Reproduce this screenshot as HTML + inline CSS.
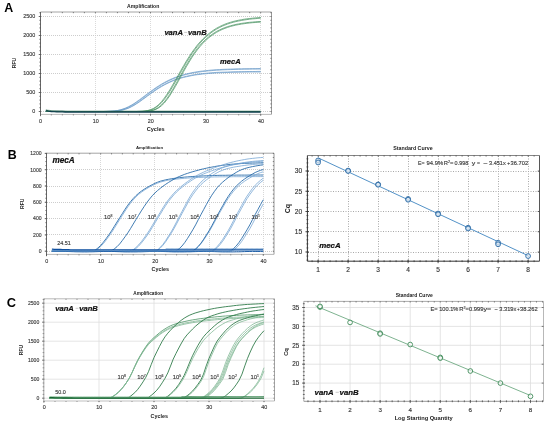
<!DOCTYPE html>
<html><head><meta charset="utf-8"><title>qPCR amplification and standard curves</title><style>
html,body{margin:0;padding:0;background:#fff;}
svg{display:block;}
text{font-family:'Liberation Sans', Arial, sans-serif;}
</style></head><body>
<svg width="550" height="425" viewBox="0 0 550 425">
<rect width="550" height="425" fill="#fff"/>
<path d="M95.5 13V114.4M150.5 13V114.4M205.5 13V114.4M260.5 13V114.4" stroke="#dadada" stroke-width="1" stroke-dasharray="1 1" fill="none"/>
<path d="M41 111.5H271.5M41 92.5H271.5M41 73.5H271.5M41 54.5H271.5M41 35.5H271.5M41 16.5H271.5" stroke="#cdcdcd" stroke-width="1" stroke-dasharray="1 1" fill="none"/>
<path d="M40.5 12H271.5" stroke="#9a9a9a" stroke-width="0.9" fill="none"/>
<path d="M271.5 12V114.4" stroke="#8c8c8c" stroke-width="0.9" fill="none"/>
<path d="M40.5 114.4H271.5" stroke="#b0b0b0" stroke-width="0.9" fill="none"/>
<path d="M40.5 12V116.2" stroke="#555" stroke-width="0.9" fill="none"/>
<path d="M51.32 114.4V115.4M51.32 12v1.2M62.34 114.4V115.4M62.34 12v1.2M73.36 114.4V115.4M73.36 12v1.2M84.38 114.4V115.4M84.38 12v1.2M95.4 114.4V115.4M95.4 12v1.2M106.42 114.4V115.4M106.42 12v1.2M117.44 114.4V115.4M117.44 12v1.2M128.46 114.4V115.4M128.46 12v1.2M139.48 114.4V115.4M139.48 12v1.2M150.5 114.4V115.4M150.5 12v1.2M161.52 114.4V115.4M161.52 12v1.2M172.54 114.4V115.4M172.54 12v1.2M183.56 114.4V115.4M183.56 12v1.2M194.58 114.4V115.4M194.58 12v1.2M205.6 114.4V115.4M205.6 12v1.2M216.62 114.4V115.4M216.62 12v1.2M227.64 114.4V115.4M227.64 12v1.2M238.66 114.4V115.4M238.66 12v1.2M249.68 114.4V115.4M249.68 12v1.2M260.7 114.4V115.4M260.7 12v1.2M39.3 111.5H40.9M271.5 111.5h-1.2M39.3 107.7H40.9M271.5 107.7h-1.2M39.3 103.9H40.9M271.5 103.9h-1.2M39.3 100.1H40.9M271.5 100.1h-1.2M39.3 96.3H40.9M271.5 96.3h-1.2M39.3 92.5H40.9M271.5 92.5h-1.2M39.3 88.7H40.9M271.5 88.7h-1.2M39.3 84.9H40.9M271.5 84.9h-1.2M39.3 81.1H40.9M271.5 81.1h-1.2M39.3 77.3H40.9M271.5 77.3h-1.2M39.3 73.5H40.9M271.5 73.5h-1.2M39.3 69.7H40.9M271.5 69.7h-1.2M39.3 65.9H40.9M271.5 65.9h-1.2M39.3 62.1H40.9M271.5 62.1h-1.2M39.3 58.3H40.9M271.5 58.3h-1.2M39.3 54.5H40.9M271.5 54.5h-1.2M39.3 50.7H40.9M271.5 50.7h-1.2M39.3 46.9H40.9M271.5 46.9h-1.2M39.3 43.1H40.9M271.5 43.1h-1.2M39.3 39.3H40.9M271.5 39.3h-1.2M39.3 35.5H40.9M271.5 35.5h-1.2M39.3 31.7H40.9M271.5 31.7h-1.2M39.3 27.9H40.9M271.5 27.9h-1.2M39.3 24.1H40.9M271.5 24.1h-1.2M39.3 20.3H40.9M271.5 20.3h-1.2M39.3 16.5H40.9M271.5 16.5h-1.2M39.3 12.7H40.9M271.5 12.7h-1.2" stroke="#555" stroke-width="0.7" fill="none"/>
<path d="M95.4 114.4V115.6M150.5 114.4V115.6M205.6 114.4V115.6M260.7 114.4V115.6M38.7 111.5H41.1M38.7 92.5H41.1M38.7 73.5H41.1M38.7 54.5H41.1M38.7 35.5H41.1M38.7 16.5H41.1" stroke="#555" stroke-width="0.8" fill="none"/>
<text x="35.3" y="113.4" font-size="5.4" text-anchor="end" font-weight="normal" font-style="normal" fill="#3a3a3a" stroke="#3a3a3a" stroke-width="0.14">0</text>
<text x="35.3" y="94.4" font-size="5.4" text-anchor="end" font-weight="normal" font-style="normal" fill="#3a3a3a" stroke="#3a3a3a" stroke-width="0.14">500</text>
<text x="35.3" y="75.4" font-size="5.4" text-anchor="end" font-weight="normal" font-style="normal" fill="#3a3a3a" stroke="#3a3a3a" stroke-width="0.14">1000</text>
<text x="35.3" y="56.4" font-size="5.4" text-anchor="end" font-weight="normal" font-style="normal" fill="#3a3a3a" stroke="#3a3a3a" stroke-width="0.14">1500</text>
<text x="35.3" y="37.4" font-size="5.4" text-anchor="end" font-weight="normal" font-style="normal" fill="#3a3a3a" stroke="#3a3a3a" stroke-width="0.14">2000</text>
<text x="35.3" y="18.4" font-size="5.4" text-anchor="end" font-weight="normal" font-style="normal" fill="#3a3a3a" stroke="#3a3a3a" stroke-width="0.14">2500</text>
<text x="40.6" y="122.6" font-size="5.4" text-anchor="middle" font-weight="normal" font-style="normal" fill="#3a3a3a" stroke="#3a3a3a" stroke-width="0.14">0</text>
<text x="95.7" y="122.6" font-size="5.4" text-anchor="middle" font-weight="normal" font-style="normal" fill="#3a3a3a" stroke="#3a3a3a" stroke-width="0.14">10</text>
<text x="150.8" y="122.6" font-size="5.4" text-anchor="middle" font-weight="normal" font-style="normal" fill="#3a3a3a" stroke="#3a3a3a" stroke-width="0.14">20</text>
<text x="205.9" y="122.6" font-size="5.4" text-anchor="middle" font-weight="normal" font-style="normal" fill="#3a3a3a" stroke="#3a3a3a" stroke-width="0.14">30</text>
<text x="261" y="122.6" font-size="5.4" text-anchor="middle" font-weight="normal" font-style="normal" fill="#3a3a3a" stroke="#3a3a3a" stroke-width="0.14">40</text>
<text x="155.7" y="130.7" font-size="5.6" text-anchor="middle" font-weight="bold" font-style="normal" fill="#222" >Cycles</text>
<text x="143.2" y="8.3" font-size="5.1" text-anchor="middle" font-weight="bold" font-style="normal" fill="#222" >Amplification</text>
<text transform="translate(16.3,63) rotate(-90)" font-size="5.1" text-anchor="middle" font-weight="bold" fill="#222">RFU</text>
<path d="M45.8,111.5 48.6,111.5 51.3,111.5 54.1,111.5 56.8,111.5 59.6,111.5 62.3,111.5 65.1,111.5 67.8,111.5 70.6,111.5 73.4,111.5 76.1,111.5 78.9,111.5 81.6,111.5 84.4,111.5 87.1,111.5 89.9,111.5 92.6,111.5 95.4,111.5 98.2,111.5 100.9,111.5 103.7,111.5 106.4,111.4 109.2,111.3 111.9,111.2 114.7,110.9 117.4,110.5 120.2,109.9 122.9,109.0 125.7,108.0 128.5,106.7 131.2,105.2 134.0,103.6 136.7,101.7 139.5,99.7 142.2,97.7 145.0,95.6 147.7,93.5 150.5,91.5 153.3,89.5 156.0,87.6 158.8,85.8 161.5,84.1 164.3,82.5 167.0,81.1 169.8,79.7 172.5,78.5 175.3,77.4 178.1,76.4 180.8,75.5 183.6,74.7 186.3,73.9 189.1,73.3 191.8,72.7 194.6,72.2 197.3,71.7 200.1,71.3 202.8,71.0 205.6,70.7 208.4,70.4 211.1,70.1 213.9,69.9 216.6,69.7 219.4,69.6 222.1,69.4 224.9,69.3 227.6,69.2 230.4,69.1 233.1,69.0 235.9,68.9 238.7,68.8 241.4,68.8 244.2,68.7 246.9,68.7 249.7,68.6 252.4,68.6 255.2,68.6 257.9,68.5 260.7,68.5" stroke="#6a9bc9" stroke-width="0.7" fill="none"/>
<path d="M45.8,111.5 48.6,111.5 51.3,111.5 54.1,111.5 56.8,111.5 59.6,111.5 62.3,111.5 65.1,111.5 67.8,111.5 70.6,111.5 73.4,111.5 76.1,111.5 78.9,111.5 81.6,111.5 84.4,111.5 87.1,111.5 89.9,111.5 92.6,111.5 95.4,111.5 98.2,111.5 100.9,111.5 103.7,111.5 106.4,111.4 109.2,111.4 111.9,111.2 114.7,111.0 117.4,110.6 120.2,110.0 122.9,109.3 125.7,108.3 128.5,107.1 131.2,105.7 134.0,104.0 136.7,102.2 139.5,100.3 142.2,98.3 145.0,96.2 147.7,94.2 150.5,92.1 153.3,90.1 156.0,88.2 158.8,86.4 161.5,84.7 164.3,83.1 167.0,81.6 169.8,80.3 172.5,79.1 175.3,77.9 178.1,76.9 180.8,76.0 183.6,75.2 186.3,74.5 189.1,73.8 191.8,73.2 194.6,72.7 197.3,72.3 200.1,71.9 202.8,71.5 205.6,71.2 208.4,70.9 211.1,70.7 213.9,70.4 216.6,70.2 219.4,70.1 222.1,69.9 224.9,69.8 227.6,69.7 230.4,69.6 233.1,69.5 235.9,69.4 238.7,69.3 241.4,69.3 244.2,69.2 246.9,69.2 249.7,69.2 252.4,69.1 255.2,69.1 257.9,69.1 260.7,69.0" stroke="#6a9bc9" stroke-width="0.7" fill="none"/>
<path d="M45.8,111.5 48.6,111.5 51.3,111.5 54.1,111.5 56.8,111.5 59.6,111.5 62.3,111.5 65.1,111.5 67.8,111.5 70.6,111.5 73.4,111.5 76.1,111.5 78.9,111.5 81.6,111.5 84.4,111.5 87.1,111.5 89.9,111.5 92.6,111.5 95.4,111.5 98.2,111.5 100.9,111.5 103.7,111.5 106.4,111.5 109.2,111.4 111.9,111.3 114.7,111.2 117.4,110.9 120.2,110.4 122.9,109.8 125.7,108.9 128.5,107.9 131.2,106.5 134.0,105.0 136.7,103.3 139.5,101.4 142.2,99.4 145.0,97.4 147.7,95.4 150.5,93.3 153.3,91.4 156.0,89.5 158.8,87.7 161.5,86.1 164.3,84.5 167.0,83.1 169.8,81.8 172.5,80.6 175.3,79.5 178.1,78.6 180.8,77.7 183.6,77.0 186.3,76.3 189.1,75.7 191.8,75.1 194.6,74.7 197.3,74.2 200.1,73.9 202.8,73.5 205.6,73.3 208.4,73.0 211.1,72.8 213.9,72.6 216.6,72.4 219.4,72.3 222.1,72.2 224.9,72.1 227.6,72.0 230.4,71.9 233.1,71.8 235.9,71.7 238.7,71.7 241.4,71.6 244.2,71.6 246.9,71.5 249.7,71.5 252.4,71.5 255.2,71.5 257.9,71.4 260.7,71.4" stroke="#6a9bc9" stroke-width="0.7" fill="none"/>
<path d="M45.8,111.5 48.6,111.5 51.3,111.5 54.1,111.5 56.8,111.5 59.6,111.5 62.3,111.5 65.1,111.5 67.8,111.5 70.6,111.5 73.4,111.5 76.1,111.5 78.9,111.5 81.6,111.5 84.4,111.5 87.1,111.5 89.9,111.5 92.6,111.5 95.4,111.5 98.2,111.5 100.9,111.5 103.7,111.5 106.4,111.5 109.2,111.4 111.9,111.4 114.7,111.2 117.4,111.0 120.2,110.6 122.9,110.0 125.7,109.2 128.5,108.2 131.2,106.9 134.0,105.4 136.7,103.7 139.5,101.9 142.2,99.9 145.0,97.9 147.7,95.9 150.5,93.9 153.3,91.9 156.0,90.0 158.8,88.2 161.5,86.6 164.3,85.0 167.0,83.6 169.8,82.3 172.5,81.1 175.3,80.0 178.1,79.1 180.8,78.2 183.6,77.4 186.3,76.8 189.1,76.2 191.8,75.6 194.6,75.1 197.3,74.7 200.1,74.4 202.8,74.0 205.6,73.8 208.4,73.5 211.1,73.3 213.9,73.1 216.6,72.9 219.4,72.8 222.1,72.7 224.9,72.6 227.6,72.5 230.4,72.4 233.1,72.3 235.9,72.3 238.7,72.2 241.4,72.2 244.2,72.1 246.9,72.1 249.7,72.0 252.4,72.0 255.2,72.0 257.9,72.0 260.7,72.0" stroke="#6a9bc9" stroke-width="0.7" fill="none"/>
<path d="M45.8,111.5 48.6,111.5 51.3,111.5 54.1,111.5 56.8,111.5 59.6,111.5 62.3,111.5 65.1,111.5 67.8,111.5 70.6,111.5 73.4,111.5 76.1,111.5 78.9,111.5 81.6,111.5 84.4,111.5 87.1,111.5 89.9,111.5 92.6,111.5 95.4,111.5 98.2,111.5 100.9,111.5 103.7,111.5 106.4,111.5 109.2,111.5 111.9,111.5 114.7,111.5 117.4,111.5 120.2,111.5 122.9,111.5 125.7,111.5 128.5,111.5 131.2,111.5 134.0,111.5 136.7,111.5 139.5,111.4 142.2,111.3 145.0,111.0 147.7,110.5 150.5,109.7 153.3,108.5 156.0,106.8 158.8,104.5 161.5,101.6 164.3,98.1 167.0,94.2 169.8,89.9 172.5,85.2 175.3,80.4 178.1,75.4 180.8,70.5 183.6,65.7 186.3,61.1 189.1,56.7 191.8,52.5 194.6,48.7 197.3,45.1 200.1,41.9 202.8,39.0 205.6,36.3 208.4,33.9 211.1,31.8 213.9,29.9 216.6,28.2 219.4,26.7 222.1,25.4 224.9,24.2 227.6,23.2 230.4,22.3 233.1,21.5 235.9,20.8 238.7,20.2 241.4,19.7 244.2,19.2 246.9,18.8 249.7,18.5 252.4,18.2 255.2,17.9 257.9,17.7 260.7,17.5" stroke="#45905f" stroke-width="0.7" fill="none"/>
<path d="M45.8,111.5 48.6,111.5 51.3,111.5 54.1,111.5 56.8,111.5 59.6,111.5 62.3,111.5 65.1,111.5 67.8,111.5 70.6,111.5 73.4,111.5 76.1,111.5 78.9,111.5 81.6,111.5 84.4,111.5 87.1,111.5 89.9,111.5 92.6,111.5 95.4,111.5 98.2,111.5 100.9,111.5 103.7,111.5 106.4,111.5 109.2,111.5 111.9,111.5 114.7,111.5 117.4,111.5 120.2,111.5 122.9,111.5 125.7,111.5 128.5,111.5 131.2,111.5 134.0,111.5 136.7,111.5 139.5,111.4 142.2,111.3 145.0,111.1 147.7,110.7 150.5,110.1 153.3,109.0 156.0,107.4 158.8,105.4 161.5,102.7 164.3,99.4 167.0,95.6 169.8,91.4 172.5,86.8 175.3,82.0 178.1,77.1 180.8,72.2 183.6,67.3 186.3,62.6 189.1,58.2 191.8,53.9 194.6,50.0 197.3,46.4 200.1,43.1 202.8,40.1 205.6,37.4 208.4,35.0 211.1,32.8 213.9,30.8 216.6,29.1 219.4,27.6 222.1,26.2 224.9,25.1 227.6,24.0 230.4,23.1 233.1,22.3 235.9,21.6 238.7,21.0 241.4,20.5 244.2,20.0 246.9,19.6 249.7,19.2 252.4,18.9 255.2,18.7 257.9,18.4 260.7,18.2" stroke="#45905f" stroke-width="0.7" fill="none"/>
<path d="M45.8,111.5 48.6,111.5 51.3,111.5 54.1,111.5 56.8,111.5 59.6,111.5 62.3,111.5 65.1,111.5 67.8,111.5 70.6,111.5 73.4,111.5 76.1,111.5 78.9,111.5 81.6,111.5 84.4,111.5 87.1,111.5 89.9,111.5 92.6,111.5 95.4,111.5 98.2,111.5 100.9,111.5 103.7,111.5 106.4,111.5 109.2,111.5 111.9,111.5 114.7,111.5 117.4,111.5 120.2,111.5 122.9,111.5 125.7,111.5 128.5,111.5 131.2,111.5 134.0,111.5 136.7,111.5 139.5,111.5 142.2,111.5 145.0,111.4 147.7,111.2 150.5,110.7 153.3,110.0 156.0,108.9 158.8,107.2 161.5,104.9 164.3,101.9 167.0,98.4 169.8,94.3 172.5,89.8 175.3,85.0 178.1,80.0 180.8,75.0 183.6,70.0 186.3,65.2 189.1,60.6 191.8,56.3 194.6,52.3 197.3,48.6 200.1,45.2 202.8,42.2 205.6,39.5 208.4,37.1 211.1,35.0 213.9,33.1 216.6,31.4 219.4,30.0 222.1,28.7 224.9,27.6 227.6,26.6 230.4,25.8 233.1,25.1 235.9,24.4 238.7,23.9 241.4,23.4 244.2,23.0 246.9,22.6 249.7,22.3 252.4,22.1 255.2,21.8 257.9,21.6 260.7,21.5" stroke="#45905f" stroke-width="0.7" fill="none"/>
<path d="M45.8,111.5 48.6,111.5 51.3,111.5 54.1,111.5 56.8,111.5 59.6,111.5 62.3,111.5 65.1,111.5 67.8,111.5 70.6,111.5 73.4,111.5 76.1,111.5 78.9,111.5 81.6,111.5 84.4,111.5 87.1,111.5 89.9,111.5 92.6,111.5 95.4,111.5 98.2,111.5 100.9,111.5 103.7,111.5 106.4,111.5 109.2,111.5 111.9,111.5 114.7,111.5 117.4,111.5 120.2,111.5 122.9,111.5 125.7,111.5 128.5,111.5 131.2,111.5 134.0,111.5 136.7,111.5 139.5,111.5 142.2,111.5 145.0,111.4 147.7,111.2 150.5,110.9 153.3,110.3 156.0,109.3 158.8,107.8 161.5,105.7 164.3,103.0 167.0,99.6 169.8,95.7 172.5,91.3 175.3,86.6 178.1,81.7 180.8,76.6 183.6,71.6 186.3,66.8 189.1,62.1 191.8,57.7 194.6,53.6 197.3,49.9 200.1,46.5 202.8,43.4 205.6,40.6 208.4,38.1 211.1,36.0 213.9,34.0 216.6,32.3 219.4,30.8 222.1,29.5 224.9,28.4 227.6,27.4 230.4,26.5 233.1,25.8 235.9,25.1 238.7,24.6 241.4,24.1 244.2,23.7 246.9,23.3 249.7,23.0 252.4,22.7 255.2,22.5 257.9,22.3 260.7,22.1" stroke="#45905f" stroke-width="0.7" fill="none"/>
<path d="M45.8,110.5 48.6,111.0 51.3,111.3 54.1,111.5 56.8,111.6 59.6,111.7 62.3,111.7 65.1,111.8 67.8,111.8 70.6,111.8 73.4,111.9 76.1,111.9 78.9,111.9 81.6,111.9 84.4,111.9 87.1,111.9 89.9,111.9 92.6,111.9 95.4,111.9 98.2,111.9 100.9,111.9 103.7,111.9 106.4,111.9 109.2,111.9 111.9,111.9 114.7,111.9 117.4,111.9 120.2,111.9 122.9,111.9 125.7,111.9 128.5,111.9 131.2,111.9 134.0,111.9 136.7,111.9 139.5,111.9 142.2,111.9 145.0,111.9 147.7,111.9 150.5,111.9 153.3,111.9 156.0,111.9 158.8,111.9 161.5,111.9 164.3,111.9 167.0,111.9 169.8,111.9 172.5,111.9 175.3,111.9 178.1,111.9 180.8,111.9 183.6,111.9 186.3,111.9 189.1,111.9 191.8,111.9 194.6,111.9 197.3,111.9 200.1,111.9 202.8,111.9 205.6,111.9 208.4,111.9 211.1,111.9 213.9,111.9 216.6,111.9 219.4,111.9 222.1,111.9 224.9,111.9 227.6,111.9 230.4,111.9 233.1,111.9 235.9,111.9 238.7,111.9 241.4,111.9 244.2,111.9 246.9,111.9 249.7,111.9 252.4,111.9 255.2,111.9 257.9,111.9 260.7,111.9" stroke="#0d3d4d" stroke-width="1.7" fill="none"/>
<path d="M45.8,110.0 48.6,110.3 51.3,110.6 54.1,110.8 56.8,110.9 59.6,111.0 62.3,111.0 65.1,111.0 67.8,111.1 70.6,111.1 73.4,111.1 76.1,111.1 78.9,111.1 81.6,111.1 84.4,111.1 87.1,111.1 89.9,111.1 92.6,111.1 95.4,111.1 98.2,111.1 100.9,111.1 103.7,111.1 106.4,111.1 109.2,111.1 111.9,111.1 114.7,111.1 117.4,111.1 120.2,111.1 122.9,111.1 125.7,111.1 128.5,111.1 131.2,111.1 134.0,111.1 136.7,111.1 139.5,111.1 142.2,111.1 145.0,111.1 147.7,111.1 150.5,111.1 153.3,111.1 156.0,111.1 158.8,111.1 161.5,111.1 164.3,111.1 167.0,111.1 169.8,111.1 172.5,111.1 175.3,111.1 178.1,111.1 180.8,111.1 183.6,111.1 186.3,111.1 189.1,111.1 191.8,111.1 194.6,111.1 197.3,111.1 200.1,111.1 202.8,111.1 205.6,111.1 208.4,111.1 211.1,111.1 213.9,111.1 216.6,111.1 219.4,111.1 222.1,111.1 224.9,111.1 227.6,111.1 230.4,111.1 233.1,111.1 235.9,111.1 238.7,111.1 241.4,111.1 244.2,111.1 246.9,111.1 249.7,111.1 252.4,111.1 255.2,111.1 257.9,111.1 260.7,111.1" stroke="#3c7a55" stroke-width="0.6" fill="none"/>
<text x="164.4" y="34.8" font-size="7.6" text-anchor="start" font-weight="bold" font-style="italic" fill="#111" stroke="#111" stroke-width="0.22">vanA</text>
<line x1="184.2" y1="32.4" x2="187.2" y2="32.4" stroke="#b5b5b5" stroke-width="0.7"/>
<text x="188.1" y="34.8" font-size="7.6" text-anchor="start" font-weight="bold" font-style="italic" fill="#111" stroke="#111" stroke-width="0.22">vanB</text>
<text x="220" y="63.8" font-size="7.6" text-anchor="start" font-weight="bold" font-style="italic" fill="#111" stroke="#111" stroke-width="0.22">mecA</text>
<text x="4.2" y="12.2" font-size="12.4" text-anchor="start" font-weight="bold" font-style="normal" fill="#000" >A</text>
<path d="M100.5 154V254.4M154.5 154V254.4M209.5 154V254.4M263.5 154V254.4" stroke="#d8d8d8" stroke-width="1" stroke-dasharray="1 1" fill="none"/>
<path d="M47 251.5H274M47 234.5H274M47 218.5H274M47 202.5H274M47 186.5H274M47 169.5H274" stroke="#cdcdcd" stroke-width="1" stroke-dasharray="1 1" fill="none"/>
<path d="M46.5 153.2H274" stroke="#9a9a9a" stroke-width="0.9" fill="none"/>
<path d="M274 153.2V254.4" stroke="#8c8c8c" stroke-width="0.9" fill="none"/>
<path d="M46.5 254.4H274" stroke="#b0b0b0" stroke-width="0.9" fill="none"/>
<path d="M46.5 153.2V256.2" stroke="#555" stroke-width="0.9" fill="none"/>
<path d="M46.5 254.4V255.4M46.5 153.2v1.2M57.34 254.4V255.4M57.34 153.2v1.2M68.18 254.4V255.4M68.18 153.2v1.2M79.02 254.4V255.4M79.02 153.2v1.2M89.86 254.4V255.4M89.86 153.2v1.2M100.7 254.4V255.4M100.7 153.2v1.2M111.54 254.4V255.4M111.54 153.2v1.2M122.38 254.4V255.4M122.38 153.2v1.2M133.22 254.4V255.4M133.22 153.2v1.2M144.06 254.4V255.4M144.06 153.2v1.2M154.9 254.4V255.4M154.9 153.2v1.2M165.74 254.4V255.4M165.74 153.2v1.2M176.58 254.4V255.4M176.58 153.2v1.2M187.42 254.4V255.4M187.42 153.2v1.2M198.26 254.4V255.4M198.26 153.2v1.2M209.1 254.4V255.4M209.1 153.2v1.2M219.94 254.4V255.4M219.94 153.2v1.2M230.78 254.4V255.4M230.78 153.2v1.2M241.62 254.4V255.4M241.62 153.2v1.2M252.46 254.4V255.4M252.46 153.2v1.2M263.3 254.4V255.4M263.3 153.2v1.2M45.3 251.2H46.9M274 251.2h-1.2M45.3 247.12H46.9M274 247.12h-1.2M45.3 243.05H46.9M274 243.05h-1.2M45.3 238.97H46.9M274 238.97h-1.2M45.3 234.9H46.9M274 234.9h-1.2M45.3 230.82H46.9M274 230.82h-1.2M45.3 226.75H46.9M274 226.75h-1.2M45.3 222.67H46.9M274 222.67h-1.2M45.3 218.6H46.9M274 218.6h-1.2M45.3 214.52H46.9M274 214.52h-1.2M45.3 210.45H46.9M274 210.45h-1.2M45.3 206.38H46.9M274 206.38h-1.2M45.3 202.3H46.9M274 202.3h-1.2M45.3 198.22H46.9M274 198.22h-1.2M45.3 194.15H46.9M274 194.15h-1.2M45.3 190.07H46.9M274 190.07h-1.2M45.3 186H46.9M274 186h-1.2M45.3 181.92H46.9M274 181.92h-1.2M45.3 177.85H46.9M274 177.85h-1.2M45.3 173.77H46.9M274 173.77h-1.2M45.3 169.7H46.9M274 169.7h-1.2M45.3 165.62H46.9M274 165.62h-1.2M45.3 161.55H46.9M274 161.55h-1.2M45.3 157.47H46.9M274 157.47h-1.2M45.3 153.4H46.9M274 153.4h-1.2" stroke="#555" stroke-width="0.7" fill="none"/>
<path d="M46.5 254.4V255.6M100.7 254.4V255.6M154.9 254.4V255.6M209.1 254.4V255.6M263.3 254.4V255.6M44.7 251.2H47.1M44.7 234.9H47.1M44.7 218.6H47.1M44.7 202.3H47.1M44.7 186H47.1M44.7 169.7H47.1M44.7 153.4H47.1" stroke="#555" stroke-width="0.8" fill="none"/>
<text x="41.6" y="253" font-size="5.1" text-anchor="end" font-weight="normal" font-style="normal" fill="#3a3a3a" stroke="#3a3a3a" stroke-width="0.14">0</text>
<text x="41.6" y="236.7" font-size="5.1" text-anchor="end" font-weight="normal" font-style="normal" fill="#3a3a3a" stroke="#3a3a3a" stroke-width="0.14">200</text>
<text x="41.6" y="220.4" font-size="5.1" text-anchor="end" font-weight="normal" font-style="normal" fill="#3a3a3a" stroke="#3a3a3a" stroke-width="0.14">400</text>
<text x="41.6" y="204.1" font-size="5.1" text-anchor="end" font-weight="normal" font-style="normal" fill="#3a3a3a" stroke="#3a3a3a" stroke-width="0.14">600</text>
<text x="41.6" y="187.8" font-size="5.1" text-anchor="end" font-weight="normal" font-style="normal" fill="#3a3a3a" stroke="#3a3a3a" stroke-width="0.14">800</text>
<text x="41.6" y="171.5" font-size="5.1" text-anchor="end" font-weight="normal" font-style="normal" fill="#3a3a3a" stroke="#3a3a3a" stroke-width="0.14">1000</text>
<text x="41.6" y="155.2" font-size="5.1" text-anchor="end" font-weight="normal" font-style="normal" fill="#3a3a3a" stroke="#3a3a3a" stroke-width="0.14">1200</text>
<text x="46.8" y="262.8" font-size="5.4" text-anchor="middle" font-weight="normal" font-style="normal" fill="#3a3a3a" stroke="#3a3a3a" stroke-width="0.14">0</text>
<text x="101" y="262.8" font-size="5.4" text-anchor="middle" font-weight="normal" font-style="normal" fill="#3a3a3a" stroke="#3a3a3a" stroke-width="0.14">10</text>
<text x="155.2" y="262.8" font-size="5.4" text-anchor="middle" font-weight="normal" font-style="normal" fill="#3a3a3a" stroke="#3a3a3a" stroke-width="0.14">20</text>
<text x="209.4" y="262.8" font-size="5.4" text-anchor="middle" font-weight="normal" font-style="normal" fill="#3a3a3a" stroke="#3a3a3a" stroke-width="0.14">30</text>
<text x="263.6" y="262.8" font-size="5.4" text-anchor="middle" font-weight="normal" font-style="normal" fill="#3a3a3a" stroke="#3a3a3a" stroke-width="0.14">40</text>
<text x="160.3" y="270.6" font-size="5.4" text-anchor="middle" font-weight="bold" font-style="normal" fill="#222" >Cycles</text>
<text x="149.5" y="149.3" font-size="4.3" text-anchor="middle" font-weight="bold" font-style="normal" fill="#222" >Amplification</text>
<text transform="translate(24.4,203.8) rotate(-90)" font-size="5.1" text-anchor="middle" font-weight="bold" fill="#222">RFU</text>
<path d="M51.9,251.2 54.6,251.2 57.3,251.2 60.0,251.2 62.8,251.2 65.5,251.2 68.2,251.2 70.9,251.2 73.6,251.2 76.3,251.2 79.0,251.2 81.7,251.2 84.4,251.2 87.2,251.2 89.9,251.2 92.6,251.2 95.3,250.1 98.0,247.9 100.7,245.4 103.4,242.2 106.1,238.6 108.8,234.9 111.5,230.9 114.2,226.5 117.0,222.0 119.7,217.7 122.4,213.5 125.1,209.2 127.8,205.2 130.5,201.7 133.2,198.5 135.9,195.7 138.6,193.3 141.3,191.2 144.1,189.3 146.8,187.6 149.5,186.1 152.2,184.7 154.9,183.3 157.6,182.2 160.3,181.2 163.0,180.5 165.7,179.8 168.4,179.3 171.2,178.8 173.9,178.4 176.6,178.1 179.3,177.7 182.0,177.4 184.7,177.1 187.4,176.9 190.1,176.7 192.8,176.5 195.6,176.3 198.3,176.2 201.0,176.0 203.7,175.9 206.4,175.8 209.1,175.6 211.8,175.5 214.5,175.5 217.2,175.4 219.9,175.3 222.7,175.3 225.4,175.3 228.1,175.2 230.8,175.2 233.5,175.2 236.2,175.1 238.9,175.1 241.6,175.1 244.3,175.1 247.0,175.1 249.8,175.0 252.5,175.0 255.2,175.0 257.9,175.0 260.6,175.0 263.3,175.0" stroke="#1f64a5" stroke-width="0.85" fill="none"/>
<path d="M51.9,251.2 54.6,251.2 57.3,251.2 60.0,251.2 62.8,251.2 65.5,251.2 68.2,251.2 70.9,251.2 73.6,251.2 76.3,251.2 79.0,251.2 81.7,251.2 84.4,251.2 87.2,251.2 89.9,251.2 92.6,251.2 95.3,250.8 98.0,248.8 100.7,246.5 103.4,243.6 106.1,240.1 108.8,236.4 111.5,232.6 114.2,228.4 117.0,223.9 119.7,219.5 122.4,215.3 125.1,211.0 127.8,206.9 130.5,203.2 133.2,199.9 135.9,196.9 138.6,194.4 141.3,192.3 144.1,190.3 146.8,188.6 149.5,187.0 152.2,185.6 154.9,184.3 157.6,183.1 160.3,182.1 163.0,181.4 165.7,180.7 168.4,180.2 171.2,179.8 173.9,179.4 176.6,179.1 179.3,178.8 182.0,178.5 184.7,178.3 187.4,178.1 190.1,177.9 192.8,177.7 195.6,177.6 198.3,177.5 201.0,177.4 203.7,177.3 206.4,177.2 209.1,177.1 211.8,177.0 214.5,176.9 217.2,176.9 219.9,176.8 222.7,176.8 225.4,176.8 228.1,176.8 230.8,176.8 233.5,176.7 236.2,176.7 238.9,176.7 241.6,176.7 244.3,176.7 247.0,176.6 249.8,176.6 252.5,176.6 255.2,176.6 257.9,176.6 260.6,176.6 263.3,176.6" stroke="#70a2d2" stroke-width="0.75" fill="none"/>
<path d="M51.9,251.2 54.6,251.2 57.3,251.2 60.0,251.2 62.8,251.2 65.5,251.2 68.2,251.2 70.9,251.2 73.6,251.2 76.3,251.2 79.0,251.2 81.7,251.2 84.4,251.1 87.2,251.1 89.9,251.1 92.6,251.1 95.3,251.1 98.0,251.1 100.7,251.1 103.4,251.1 106.1,251.0 108.8,251.0 111.5,250.8 114.2,249.0 117.0,246.7 119.7,243.9 122.4,240.4 125.1,236.7 127.8,232.9 130.5,228.6 133.2,224.1 135.9,219.6 138.6,215.3 141.3,210.9 144.1,206.6 146.8,202.6 149.5,199.1 152.2,195.8 154.9,193.0 157.6,190.5 160.3,188.3 163.0,186.2 165.7,184.3 168.4,182.5 171.2,180.8 173.9,179.2 176.6,177.7 179.3,176.5 182.0,175.4 184.7,174.3 187.4,173.4 190.1,172.5 192.8,171.7 195.6,170.9 198.3,170.2 201.0,169.4 203.7,168.8 206.4,168.2 209.1,167.6 211.8,167.1 214.5,166.6 217.2,166.1 219.9,165.7 222.7,165.3 225.4,165.0 228.1,164.6 230.8,164.3 233.5,164.1 236.2,163.9 238.9,163.7 241.6,163.5 244.3,163.4 247.0,163.3 249.8,163.2 252.5,163.1 255.2,163.0 257.9,162.9 260.6,162.8 263.3,162.7" stroke="#1f64a5" stroke-width="0.85" fill="none"/>
<path d="M51.9,251.2 54.6,251.2 57.3,251.2 60.0,251.2 62.8,251.2 65.5,251.2 68.2,251.2 70.9,251.2 73.6,251.2 76.3,251.2 79.0,251.2 81.7,251.2 84.4,251.2 87.2,251.2 89.9,251.2 92.6,251.2 95.3,251.2 98.0,251.1 100.7,251.1 103.4,251.1 106.1,251.1 108.8,251.1 111.5,251.1 114.2,251.1 117.0,251.1 119.7,251.0 122.4,251.0 125.1,251.0 127.8,250.9 130.5,250.9 133.2,249.7 135.9,247.5 138.6,244.9 141.3,241.7 144.1,238.0 146.8,234.2 149.5,230.1 152.2,225.6 154.9,221.0 157.6,216.6 160.3,212.2 163.0,207.7 165.7,203.5 168.4,199.8 171.2,196.3 173.9,193.2 176.6,190.5 179.3,188.1 182.0,185.8 184.7,183.7 187.4,181.7 190.1,179.8 192.8,178.0 195.6,176.3 198.3,174.7 201.0,173.4 203.7,172.1 206.4,170.9 209.1,169.8 211.8,168.7 214.5,167.7 217.2,166.7 219.9,165.8 222.7,164.9 225.4,164.0 228.1,163.2 230.8,162.5 233.5,161.8 236.2,161.2 238.9,160.6 241.6,160.1 244.3,159.6 247.0,159.1 249.8,158.7 252.5,158.4 255.2,158.1 257.9,157.8 260.6,157.6 263.3,157.4" stroke="#70a2d2" stroke-width="0.75" fill="none"/>
<path d="M51.9,251.2 54.6,251.2 57.3,251.2 60.0,251.2 62.8,251.2 65.5,251.2 68.2,251.2 70.9,251.2 73.6,251.2 76.3,251.2 79.0,251.2 81.7,251.2 84.4,251.2 87.2,251.2 89.9,251.2 92.6,251.2 95.3,251.2 98.0,251.2 100.7,251.1 103.4,251.1 106.1,251.1 108.8,251.1 111.5,251.1 114.2,251.1 117.0,251.1 119.7,251.1 122.4,251.0 125.1,251.0 127.8,251.0 130.5,251.0 133.2,250.5 135.9,248.5 138.6,246.1 141.3,243.1 144.1,239.6 146.8,235.9 149.5,232.0 152.2,227.6 154.9,223.0 157.6,218.5 160.3,214.2 163.0,209.7 165.7,205.5 168.4,201.5 171.2,198.0 173.9,194.8 176.6,192.0 179.3,189.5 182.0,187.3 184.7,185.2 187.4,183.2 190.1,181.4 192.8,179.6 195.6,177.9 198.3,176.4 201.0,175.1 203.7,173.9 206.4,172.8 209.1,171.7 211.8,170.8 214.5,169.8 217.2,168.9 219.9,168.1 222.7,167.3 225.4,166.5 228.1,165.8 230.8,165.1 233.5,164.5 236.2,164.0 238.9,163.4 241.6,162.9 244.3,162.5 247.0,162.1 249.8,161.7 252.5,161.4 255.2,161.1 257.9,160.9 260.6,160.7 263.3,160.5" stroke="#70a2d2" stroke-width="0.75" fill="none"/>
<path d="M51.9,251.2 54.6,251.2 57.3,251.2 60.0,251.2 62.8,251.2 65.5,251.2 68.2,251.2 70.9,251.2 73.6,251.2 76.3,251.2 79.0,251.2 81.7,251.2 84.4,251.2 87.2,251.2 89.9,251.2 92.6,251.2 95.3,251.2 98.0,251.2 100.7,251.2 103.4,251.2 106.1,251.2 108.8,251.2 111.5,251.2 114.2,251.2 117.0,251.2 119.7,251.2 122.4,251.2 125.1,251.2 127.8,251.2 130.5,251.2 133.2,251.2 135.9,251.2 138.6,251.2 141.3,251.2 144.1,251.2 146.8,251.2 149.5,251.2 152.2,251.2 154.9,251.2 157.6,249.9 160.3,247.3 163.0,244.3 165.7,240.5 168.4,236.2 171.2,231.8 173.9,227.0 176.6,221.8 179.3,216.5 182.0,211.4 184.7,206.3 187.4,201.2 190.1,196.4 192.8,192.2 195.6,188.4 198.3,185.0 201.0,182.1 203.7,179.6 206.4,177.4 209.1,175.4 211.8,173.5 214.5,171.8 217.2,170.2 219.9,168.8 222.7,167.7 225.4,166.8 228.1,166.0 230.8,165.3 233.5,164.8 236.2,164.3 238.9,163.8 241.6,163.4 244.3,163.0 247.0,162.7 249.8,162.3 252.5,162.1 255.2,161.8 257.9,161.6 260.6,161.4 263.3,161.2" stroke="#70a2d2" stroke-width="0.75" fill="none"/>
<path d="M51.9,251.2 54.6,251.2 57.3,251.2 60.0,251.2 62.8,251.2 65.5,251.2 68.2,251.2 70.9,251.2 73.6,251.2 76.3,251.2 79.0,251.2 81.7,251.2 84.4,251.2 87.2,251.2 89.9,251.2 92.6,251.2 95.3,251.2 98.0,251.2 100.7,251.2 103.4,251.2 106.1,251.2 108.8,251.2 111.5,251.2 114.2,251.2 117.0,251.2 119.7,251.2 122.4,251.2 125.1,251.2 127.8,251.2 130.5,251.2 133.2,251.2 135.9,251.2 138.6,251.2 141.3,251.2 144.1,251.2 146.8,251.2 149.5,251.2 152.2,251.2 154.9,251.2 157.6,250.4 160.3,248.0 163.0,245.2 165.7,241.7 168.4,237.6 171.2,233.3 173.9,228.8 176.6,223.8 179.3,218.6 182.0,213.6 184.7,208.6 187.4,203.7 190.1,198.9 192.8,194.7 195.6,190.9 198.3,187.5 201.0,184.6 203.7,182.1 206.4,179.9 209.1,177.8 211.8,176.0 214.5,174.3 217.2,172.7 219.9,171.3 222.7,170.2 225.4,169.2 228.1,168.4 230.8,167.8 233.5,167.2 236.2,166.7 238.9,166.3 241.6,165.8 244.3,165.5 247.0,165.1 249.8,164.8 252.5,164.5 255.2,164.3 257.9,164.1 260.6,163.9 263.3,163.7" stroke="#70a2d2" stroke-width="0.75" fill="none"/>
<path d="M51.9,251.2 54.6,251.2 57.3,251.2 60.0,251.2 62.8,251.2 65.5,251.2 68.2,251.2 70.9,251.2 73.6,251.2 76.3,251.2 79.0,251.2 81.7,251.2 84.4,251.2 87.2,251.2 89.9,251.2 92.6,251.2 95.3,251.2 98.0,251.2 100.7,251.2 103.4,251.2 106.1,251.2 108.8,251.2 111.5,251.2 114.2,251.2 117.0,251.2 119.7,251.2 122.4,251.2 125.1,251.2 127.8,251.2 130.5,251.2 133.2,251.2 135.9,251.2 138.6,251.2 141.3,251.2 144.1,251.2 146.8,251.2 149.5,251.2 152.2,251.2 154.9,251.2 157.6,251.2 160.3,251.2 163.0,251.2 165.7,251.2 168.4,251.2 171.2,251.2 173.9,251.2 176.6,250.8 179.3,248.6 182.0,246.0 184.7,242.6 187.4,238.6 190.1,234.3 192.8,229.8 195.6,224.9 198.3,219.6 201.0,214.5 203.7,209.5 206.4,204.5 209.1,199.7 211.8,195.2 214.5,191.3 217.2,187.7 219.9,184.7 222.7,182.1 225.4,179.8 228.1,177.7 230.8,175.8 233.5,174.1 236.2,172.4 238.9,170.9 241.6,169.7 244.3,168.7 247.0,167.9 249.8,167.2 252.5,166.6 255.2,166.1 257.9,165.6 260.6,165.2 263.3,164.8" stroke="#1f64a5" stroke-width="0.85" fill="none"/>
<path d="M51.9,251.2 54.6,251.2 57.3,251.2 60.0,251.2 62.8,251.2 65.5,251.2 68.2,251.2 70.9,251.2 73.6,251.2 76.3,251.2 79.0,251.2 81.7,251.2 84.4,251.2 87.2,251.2 89.9,251.2 92.6,251.2 95.3,251.2 98.0,251.2 100.7,251.2 103.4,251.2 106.1,251.2 108.8,251.2 111.5,251.2 114.2,251.2 117.0,251.2 119.7,251.2 122.4,251.2 125.1,251.2 127.8,251.2 130.5,251.2 133.2,251.2 135.9,251.2 138.6,251.2 141.3,251.2 144.1,251.2 146.8,251.2 149.5,251.2 152.2,251.2 154.9,251.2 157.6,251.2 160.3,251.2 163.0,251.2 165.7,251.2 168.4,251.2 171.2,251.2 173.9,251.2 176.6,251.2 179.3,251.2 182.0,251.2 184.7,251.2 187.4,251.2 190.1,251.2 192.8,251.1 195.6,249.3 198.3,246.8 201.0,243.7 203.7,240.0 206.4,235.9 209.1,231.7 211.8,227.1 214.5,222.1 217.2,217.1 219.9,212.4 222.7,207.6 225.4,202.9 228.1,198.6 230.8,194.7 233.5,191.3 236.2,188.2 238.9,185.7 241.6,183.4 244.3,181.4 247.0,179.6 249.8,177.9 252.5,176.3 255.2,174.9 257.9,173.6 260.6,172.6 263.3,171.8" stroke="#70a2d2" stroke-width="0.75" fill="none"/>
<path d="M51.9,251.2 54.6,251.2 57.3,251.2 60.0,251.2 62.8,251.2 65.5,251.2 68.2,251.2 70.9,251.2 73.6,251.2 76.3,251.2 79.0,251.2 81.7,251.2 84.4,251.2 87.2,251.2 89.9,251.2 92.6,251.2 95.3,251.2 98.0,251.2 100.7,251.2 103.4,251.2 106.1,251.2 108.8,251.2 111.5,251.2 114.2,251.2 117.0,251.2 119.7,251.2 122.4,251.2 125.1,251.2 127.8,251.2 130.5,251.2 133.2,251.2 135.9,251.2 138.6,251.2 141.3,251.2 144.1,251.2 146.8,251.2 149.5,251.2 152.2,251.2 154.9,251.2 157.6,251.2 160.3,251.2 163.0,251.2 165.7,251.2 168.4,251.2 171.2,251.2 173.9,251.2 176.6,251.2 179.3,251.2 182.0,251.2 184.7,251.2 187.4,251.2 190.1,251.2 192.8,250.9 195.6,248.9 198.3,246.3 201.0,243.1 203.7,239.2 206.4,234.9 209.1,230.6 211.8,225.8 214.5,220.7 217.2,215.6 219.9,210.7 222.7,205.8 225.4,201.0 228.1,196.6 230.8,192.7 233.5,189.2 236.2,186.1 238.9,183.6 241.6,181.2 244.3,179.2 247.0,177.3 249.8,175.6 252.5,174.0 255.2,172.5 257.9,171.3 260.6,170.3 263.3,169.5" stroke="#1f64a5" stroke-width="0.85" fill="none"/>
<path d="M51.9,251.2 54.6,251.2 57.3,251.2 60.0,251.2 62.8,251.2 65.5,251.2 68.2,251.2 70.9,251.2 73.6,251.2 76.3,251.2 79.0,251.2 81.7,251.2 84.4,251.2 87.2,251.2 89.9,251.2 92.6,251.2 95.3,251.2 98.0,251.2 100.7,251.2 103.4,251.2 106.1,251.2 108.8,251.2 111.5,251.2 114.2,251.2 117.0,251.2 119.7,251.2 122.4,251.2 125.1,251.2 127.8,251.2 130.5,251.2 133.2,251.2 135.9,251.2 138.6,251.2 141.3,251.2 144.1,251.2 146.8,251.2 149.5,251.2 152.2,251.2 154.9,251.2 157.6,251.2 160.3,251.2 163.0,251.2 165.7,251.2 168.4,251.2 171.2,251.2 173.9,251.2 176.6,251.2 179.3,251.2 182.0,251.2 184.7,251.2 187.4,251.2 190.1,251.2 192.8,251.2 195.6,251.2 198.3,251.2 201.0,251.2 203.7,251.2 206.4,251.2 209.1,251.2 211.8,251.1 214.5,249.2 217.2,246.5 219.9,243.3 222.7,239.4 225.4,235.1 228.1,230.8 230.8,225.9 233.5,220.7 236.2,215.5 238.9,210.5 241.6,205.5 244.3,200.6 247.0,196.1 249.8,192.1 252.5,188.4 255.2,185.2 257.9,182.6 260.6,180.2 263.3,178.1" stroke="#70a2d2" stroke-width="0.75" fill="none"/>
<path d="M51.9,251.2 54.6,251.2 57.3,251.2 60.0,251.2 62.8,251.2 65.5,251.2 68.2,251.2 70.9,251.2 73.6,251.2 76.3,251.2 79.0,251.2 81.7,251.2 84.4,251.2 87.2,251.2 89.9,251.2 92.6,251.2 95.3,251.2 98.0,251.2 100.7,251.2 103.4,251.2 106.1,251.2 108.8,251.2 111.5,251.2 114.2,251.2 117.0,251.2 119.7,251.2 122.4,251.2 125.1,251.2 127.8,251.2 130.5,251.2 133.2,251.2 135.9,251.2 138.6,251.2 141.3,251.2 144.1,251.2 146.8,251.2 149.5,251.2 152.2,251.2 154.9,251.2 157.6,251.2 160.3,251.2 163.0,251.2 165.7,251.2 168.4,251.2 171.2,251.2 173.9,251.2 176.6,251.2 179.3,251.2 182.0,251.2 184.7,251.2 187.4,251.2 190.1,251.2 192.8,251.2 195.6,251.2 198.3,251.2 201.0,251.2 203.7,251.2 206.4,251.2 209.1,251.2 211.8,251.2 214.5,250.1 217.2,247.6 219.9,244.8 222.7,241.2 225.4,237.1 228.1,232.8 230.8,228.3 233.5,223.2 236.2,218.1 238.9,213.1 241.6,208.2 244.3,203.3 247.0,198.7 249.8,194.6 252.5,190.9 255.2,187.6 257.9,184.8 260.6,182.4 263.3,180.2" stroke="#70a2d2" stroke-width="0.75" fill="none"/>
<path d="M51.9,251.2 54.6,251.2 57.3,251.2 60.0,251.2 62.8,251.2 65.5,251.2 68.2,251.2 70.9,251.2 73.6,251.2 76.3,251.2 79.0,251.2 81.7,251.2 84.4,251.2 87.2,251.2 89.9,251.2 92.6,251.2 95.3,251.2 98.0,251.2 100.7,251.2 103.4,251.2 106.1,251.2 108.8,251.2 111.5,251.2 114.2,251.2 117.0,251.2 119.7,251.2 122.4,251.2 125.1,251.2 127.8,251.2 130.5,251.2 133.2,251.2 135.9,251.2 138.6,251.2 141.3,251.2 144.1,251.2 146.8,251.2 149.5,251.2 152.2,251.2 154.9,251.2 157.6,251.2 160.3,251.2 163.0,251.2 165.7,251.2 168.4,251.2 171.2,251.2 173.9,251.2 176.6,251.2 179.3,251.2 182.0,251.2 184.7,251.2 187.4,251.2 190.1,251.2 192.8,251.2 195.6,251.2 198.3,251.2 201.0,251.2 203.7,251.2 206.4,251.2 209.1,251.2 211.8,251.2 214.5,251.2 217.2,251.2 219.9,251.2 222.7,251.2 225.4,251.2 228.1,251.2 230.8,250.8 233.5,248.6 236.2,246.0 238.9,242.6 241.6,238.6 244.3,234.3 247.0,229.8 249.8,224.9 252.5,219.6 255.2,214.5 257.9,209.5 260.6,204.5 263.3,199.7" stroke="#1f64a5" stroke-width="0.85" fill="none"/>
<path d="M51.9,251.2 54.6,251.2 57.3,251.2 60.0,251.2 62.8,251.2 65.5,251.2 68.2,251.2 70.9,251.2 73.6,251.2 76.3,251.2 79.0,251.2 81.7,251.2 84.4,251.2 87.2,251.2 89.9,251.2 92.6,251.2 95.3,251.2 98.0,251.2 100.7,251.2 103.4,251.2 106.1,251.2 108.8,251.2 111.5,251.2 114.2,251.2 117.0,251.2 119.7,251.2 122.4,251.2 125.1,251.2 127.8,251.2 130.5,251.2 133.2,251.2 135.9,251.2 138.6,251.2 141.3,251.2 144.1,251.2 146.8,251.2 149.5,251.2 152.2,251.2 154.9,251.2 157.6,251.2 160.3,251.2 163.0,251.2 165.7,251.2 168.4,251.2 171.2,251.2 173.9,251.2 176.6,251.2 179.3,251.2 182.0,251.2 184.7,251.2 187.4,251.2 190.1,251.2 192.8,251.2 195.6,251.2 198.3,251.2 201.0,251.2 203.7,251.2 206.4,251.2 209.1,251.2 211.8,251.2 214.5,251.2 217.2,251.2 219.9,251.2 222.7,251.2 225.4,251.2 228.1,251.2 230.8,251.2 233.5,250.3 236.2,247.9 238.9,245.1 241.6,241.6 244.3,237.5 247.0,233.2 249.8,228.7 252.5,223.8 255.2,218.6 257.9,213.6 260.6,208.7 263.3,203.8" stroke="#70a2d2" stroke-width="0.75" fill="none"/>
<path d="M51.9,249.1 54.6,249.3 57.3,249.4 60.0,249.5 62.8,249.6 65.5,249.7 68.2,249.7 70.9,249.8 73.6,249.8 76.3,249.8 79.0,249.8 81.7,249.8 84.4,249.9 87.2,249.9 89.9,249.9 92.6,249.9 95.3,249.9 98.0,249.9 100.7,249.9 103.4,249.9 106.1,249.9 108.8,249.9 111.5,249.9 114.2,249.9 117.0,249.9 119.7,249.9 122.4,249.9 125.1,249.9 127.8,249.9 130.5,249.9 133.2,249.9 135.9,249.9 138.6,249.9 141.3,249.9 144.1,249.9 146.8,249.9 149.5,249.9 152.2,249.9 154.9,249.9 157.6,249.9 160.3,249.9 163.0,249.9 165.7,249.9 168.4,249.9 171.2,249.9 173.9,249.9 176.6,249.9 179.3,249.9 182.0,249.9 184.7,249.9 187.4,249.9 190.1,249.9 192.8,249.9 195.6,249.9 198.3,249.9 201.0,249.9 203.7,249.9 206.4,249.9 209.1,249.9 211.8,249.9 214.5,249.9 217.2,249.9 219.9,249.9 222.7,249.9 225.4,249.9 228.1,249.9 230.8,249.9 233.5,249.9 236.2,249.9 238.9,249.9 241.6,249.9 244.3,249.9 247.0,249.9 249.8,249.9 252.5,249.9 255.2,249.9 257.9,249.9 260.6,249.9 263.3,249.9" stroke="#0d4d9e" stroke-width="1.3" fill="none"/>
<path d="M51.9,250.9 54.6,251.0 57.3,251.1 60.0,251.1 62.8,251.2 65.5,251.3 68.2,251.5 70.9,251.6 73.6,251.7 76.3,251.8 79.0,251.8 81.7,251.9 84.4,251.9 87.2,251.9 89.9,251.8 92.6,251.8 95.3,251.7 98.0,251.6 100.7,251.5 103.4,251.5 106.1,251.4 108.8,251.4 111.5,251.5 114.2,251.5 117.0,251.6 119.7,251.7 122.4,251.8 125.1,251.9 127.8,251.9 130.5,251.9 133.2,251.9 135.9,251.9 138.6,251.8 141.3,251.8 144.1,251.7 146.8,251.6 149.5,251.5 152.2,251.5 154.9,251.4 157.6,251.4 160.3,251.5 163.0,251.5 165.7,251.6 168.4,251.7 171.2,251.8 173.9,251.9 176.6,251.9 179.3,251.9 182.0,251.9 184.7,251.9 187.4,251.8 190.1,251.8 192.8,251.7 195.6,251.6 198.3,251.5 201.0,251.5 203.7,251.4 206.4,251.5 209.1,251.5 211.8,251.5 214.5,251.6 217.2,251.7 219.9,251.8 222.7,251.9 225.4,251.9 228.1,251.9 230.8,251.9 233.5,251.9 236.2,251.8 238.9,251.8 241.6,251.7 244.3,251.6 247.0,251.5 249.8,251.5 252.5,251.4 255.2,251.5 257.9,251.5 260.6,251.5 263.3,251.6" stroke="#1f5fa8" stroke-width="1.0" fill="none"/>
<path d="M51.9,250.6 54.6,250.6 57.3,250.7 60.0,250.7 62.8,250.8 65.5,250.8 68.2,250.9 70.9,250.9 73.6,251.0 76.3,251.0 79.0,251.0 81.7,251.0 84.4,251.0 87.2,251.0 89.9,251.0 92.6,250.9 95.3,250.8 98.0,250.8 100.7,250.7 103.4,250.7 106.1,250.6 108.8,250.6 111.5,250.6 114.2,250.5 117.0,250.6 119.7,250.6 122.4,250.6 125.1,250.7 127.8,250.7 130.5,250.8 133.2,250.8 135.9,250.9 138.6,250.9 141.3,251.0 144.1,251.0 146.8,251.0 149.5,251.0 152.2,251.0 154.9,251.0 157.6,251.0 160.3,250.9 163.0,250.9 165.7,250.8 168.4,250.7 171.2,250.7 173.9,250.6 176.6,250.6 179.3,250.6 182.0,250.5 184.7,250.6 187.4,250.6 190.1,250.6 192.8,250.6 195.6,250.7 198.3,250.8 201.0,250.8 203.7,250.9 206.4,250.9 209.1,251.0 211.8,251.0 214.5,251.0 217.2,251.0 219.9,251.0 222.7,251.0 225.4,251.0 228.1,250.9 230.8,250.9 233.5,250.8 236.2,250.7 238.9,250.7 241.6,250.6 244.3,250.6 247.0,250.6 249.8,250.5 252.5,250.6 255.2,250.6 257.9,250.6 260.6,250.6 263.3,250.7" stroke="#7aa6d2" stroke-width="0.6" fill="none"/>
<path d="M165.7,248.8 167.0,248.8 168.2,248.8 169.5,248.8 170.7,248.8 172.0,248.8 173.2,248.8 174.5,248.8 175.7,248.8 177.0,248.8 178.2,248.8 179.5,248.8 180.7,248.8 182.0,248.8 183.3,248.8 184.5,248.8 185.8,248.8 187.0,248.8 188.3,248.8 189.5,248.8 190.8,248.8 192.0,248.8 193.3,248.8 194.5,248.8 195.8,248.8 197.0,248.8 198.3,248.8 199.5,248.8 200.8,248.8 202.0,248.8 203.3,248.8 204.5,248.8 205.8,248.8 207.0,248.8 208.3,248.8 209.5,248.8 210.8,248.8 212.0,248.8 213.3,248.8 214.5,248.8 215.8,248.8 217.0,248.8 218.3,248.8 219.5,248.8 220.8,248.8 222.0,248.8 223.3,248.8 224.5,248.8 225.8,248.8 227.0,248.8 228.3,248.8 229.5,248.8 230.8,248.8 232.0,248.8 233.3,248.8 234.5,248.8 235.8,248.8 237.0,248.8 238.3,248.8 239.5,248.8 240.8,248.8 242.0,248.8 243.3,248.8 244.5,248.8 245.8,248.8 247.0,248.8 248.3,248.8 249.5,248.8 250.8,248.8 252.0,248.8 253.3,248.8 254.5,248.8 255.8,248.8 257.0,248.8 258.3,248.8 259.5,248.8 260.8,248.8 262.0,248.8 263.3,248.8" stroke="#3a78b8" stroke-width="0.6" fill="none"/>
<text x="108.2" y="219.3" font-size="5.9" text-anchor="middle" font-weight="normal" font-style="normal" fill="#3a3a3a" stroke="#3a3a3a" stroke-width="0.14">10<tspan font-size="3.5" dy="-2.1">8</tspan></text>
<text x="132.3" y="219.3" font-size="5.9" text-anchor="middle" font-weight="normal" font-style="normal" fill="#3a3a3a" stroke="#3a3a3a" stroke-width="0.14">10<tspan font-size="3.5" dy="-2.1">7</tspan></text>
<text x="152" y="219.3" font-size="5.9" text-anchor="middle" font-weight="normal" font-style="normal" fill="#3a3a3a" stroke="#3a3a3a" stroke-width="0.14">10<tspan font-size="3.5" dy="-2.1">6</tspan></text>
<text x="173.1" y="219.3" font-size="5.9" text-anchor="middle" font-weight="normal" font-style="normal" fill="#3a3a3a" stroke="#3a3a3a" stroke-width="0.14">10<tspan font-size="3.5" dy="-2.1">5</tspan></text>
<text x="194.4" y="219.3" font-size="5.9" text-anchor="middle" font-weight="normal" font-style="normal" fill="#3a3a3a" stroke="#3a3a3a" stroke-width="0.14">10<tspan font-size="3.5" dy="-2.1">4</tspan></text>
<text x="214.2" y="219.3" font-size="5.9" text-anchor="middle" font-weight="normal" font-style="normal" fill="#3a3a3a" stroke="#3a3a3a" stroke-width="0.14">10<tspan font-size="3.5" dy="-2.1">3</tspan></text>
<text x="232.9" y="219.3" font-size="5.9" text-anchor="middle" font-weight="normal" font-style="normal" fill="#3a3a3a" stroke="#3a3a3a" stroke-width="0.14">10<tspan font-size="3.5" dy="-2.1">2</tspan></text>
<text x="255.8" y="219.3" font-size="5.9" text-anchor="middle" font-weight="normal" font-style="normal" fill="#3a3a3a" stroke="#3a3a3a" stroke-width="0.14">10<tspan font-size="3.5" dy="-2.1">1</tspan></text>
<text x="57.3" y="244.6" font-size="5.4" text-anchor="start" font-weight="normal" font-style="normal" fill="#3a3a3a" stroke="#3a3a3a" stroke-width="0.14">24.51</text>
<text x="52.4" y="163" font-size="8.2" text-anchor="start" font-weight="bold" font-style="italic" fill="#111" stroke="#111" stroke-width="0.22">mecA</text>
<text x="7.8" y="159" font-size="12.4" text-anchor="start" font-weight="bold" font-style="normal" fill="#000" >B</text>
<path d="M99 298.8V401M154 298.8V401M209 298.8V401M264 298.8V401M43.8 398.2H274.5M43.8 379.2H274.5M43.8 360.2H274.5M43.8 341.2H274.5M43.8 322.2H274.5M43.8 303.2H274.5" stroke="#dedede" stroke-width="0.8" fill="none"/>
<path d="M43.8 298.8H274.5" stroke="#b0b0b0" stroke-width="0.9" fill="none"/>
<path d="M274.5 298.8V401" stroke="#9a9a9a" stroke-width="0.9" fill="none"/>
<path d="M43.8 401H274.5" stroke="#b8b8b8" stroke-width="0.9" fill="none"/>
<path d="M43.8 298.8V402.8" stroke="#9a9a9a" stroke-width="0.9" fill="none"/>
<path d="M44 401V402M44 298.8v1.2M55 401V402M55 298.8v1.2M66 401V402M66 298.8v1.2M77 401V402M77 298.8v1.2M88 401V402M88 298.8v1.2M99 401V402M99 298.8v1.2M110 401V402M110 298.8v1.2M121 401V402M121 298.8v1.2M132 401V402M132 298.8v1.2M143 401V402M143 298.8v1.2M154 401V402M154 298.8v1.2M165 401V402M165 298.8v1.2M176 401V402M176 298.8v1.2M187 401V402M187 298.8v1.2M198 401V402M198 298.8v1.2M209 401V402M209 298.8v1.2M220 401V402M220 298.8v1.2M231 401V402M231 298.8v1.2M242 401V402M242 298.8v1.2M253 401V402M253 298.8v1.2M264 401V402M264 298.8v1.2M42.6 398.2H44.2M274.5 398.2h-1.2M42.6 394.4H44.2M274.5 394.4h-1.2M42.6 390.6H44.2M274.5 390.6h-1.2M42.6 386.8H44.2M274.5 386.8h-1.2M42.6 383H44.2M274.5 383h-1.2M42.6 379.2H44.2M274.5 379.2h-1.2M42.6 375.4H44.2M274.5 375.4h-1.2M42.6 371.6H44.2M274.5 371.6h-1.2M42.6 367.8H44.2M274.5 367.8h-1.2M42.6 364H44.2M274.5 364h-1.2M42.6 360.2H44.2M274.5 360.2h-1.2M42.6 356.4H44.2M274.5 356.4h-1.2M42.6 352.6H44.2M274.5 352.6h-1.2M42.6 348.8H44.2M274.5 348.8h-1.2M42.6 345H44.2M274.5 345h-1.2M42.6 341.2H44.2M274.5 341.2h-1.2M42.6 337.4H44.2M274.5 337.4h-1.2M42.6 333.6H44.2M274.5 333.6h-1.2M42.6 329.8H44.2M274.5 329.8h-1.2M42.6 326H44.2M274.5 326h-1.2M42.6 322.2H44.2M274.5 322.2h-1.2M42.6 318.4H44.2M274.5 318.4h-1.2M42.6 314.6H44.2M274.5 314.6h-1.2M42.6 310.8H44.2M274.5 310.8h-1.2M42.6 307H44.2M274.5 307h-1.2M42.6 303.2H44.2M274.5 303.2h-1.2M42.6 299.4H44.2M274.5 299.4h-1.2" stroke="#777" stroke-width="0.7" fill="none"/>
<path d="M44 401V402.2M99 401V402.2M154 401V402.2M209 401V402.2M264 401V402.2M42 398.2H44.4M42 379.2H44.4M42 360.2H44.4M42 341.2H44.4M42 322.2H44.4M42 303.2H44.4" stroke="#777" stroke-width="0.8" fill="none"/>
<text x="39.3" y="400" font-size="5.1" text-anchor="end" font-weight="normal" font-style="normal" fill="#3a3a3a" stroke="#3a3a3a" stroke-width="0.14">0</text>
<text x="39.3" y="381" font-size="5.1" text-anchor="end" font-weight="normal" font-style="normal" fill="#3a3a3a" stroke="#3a3a3a" stroke-width="0.14">500</text>
<text x="39.3" y="362" font-size="5.1" text-anchor="end" font-weight="normal" font-style="normal" fill="#3a3a3a" stroke="#3a3a3a" stroke-width="0.14">1000</text>
<text x="39.3" y="343" font-size="5.1" text-anchor="end" font-weight="normal" font-style="normal" fill="#3a3a3a" stroke="#3a3a3a" stroke-width="0.14">1500</text>
<text x="39.3" y="324" font-size="5.1" text-anchor="end" font-weight="normal" font-style="normal" fill="#3a3a3a" stroke="#3a3a3a" stroke-width="0.14">2000</text>
<text x="39.3" y="305" font-size="5.1" text-anchor="end" font-weight="normal" font-style="normal" fill="#3a3a3a" stroke="#3a3a3a" stroke-width="0.14">2500</text>
<text x="44.3" y="409.2" font-size="5.4" text-anchor="middle" font-weight="normal" font-style="normal" fill="#3a3a3a" stroke="#3a3a3a" stroke-width="0.14">0</text>
<text x="99.3" y="409.2" font-size="5.4" text-anchor="middle" font-weight="normal" font-style="normal" fill="#3a3a3a" stroke="#3a3a3a" stroke-width="0.14">10</text>
<text x="154.3" y="409.2" font-size="5.4" text-anchor="middle" font-weight="normal" font-style="normal" fill="#3a3a3a" stroke="#3a3a3a" stroke-width="0.14">20</text>
<text x="209.3" y="409.2" font-size="5.4" text-anchor="middle" font-weight="normal" font-style="normal" fill="#3a3a3a" stroke="#3a3a3a" stroke-width="0.14">30</text>
<text x="264.3" y="409.2" font-size="5.4" text-anchor="middle" font-weight="normal" font-style="normal" fill="#3a3a3a" stroke="#3a3a3a" stroke-width="0.14">40</text>
<text x="159.3" y="417.6" font-size="5.4" text-anchor="middle" font-weight="bold" font-style="normal" fill="#222" >Cycles</text>
<text x="148.2" y="295.3" font-size="4.7" text-anchor="middle" font-weight="bold" font-style="normal" fill="#222" >Amplification</text>
<text transform="translate(22.9,350) rotate(-90)" font-size="5.0" text-anchor="middle" font-weight="bold" fill="#222">RFU</text>
<path d="M49.5,398.2 52.2,398.2 55.0,398.2 57.8,398.2 60.5,398.2 63.2,398.2 66.0,398.2 68.8,398.2 71.5,398.2 74.2,398.2 77.0,398.2 79.8,398.2 82.5,398.2 85.2,398.2 88.0,398.2 90.8,398.2 93.5,398.2 96.2,398.2 99.0,398.2 101.8,398.2 104.5,398.2 107.2,398.2 110.0,398.1 112.8,396.7 115.5,394.7 118.2,392.5 121.0,389.7 123.8,386.3 126.5,382.5 129.2,378.3 132.0,372.7 134.8,366.4 137.5,360.6 140.2,355.7 143.0,351.0 145.8,346.7 148.5,343.0 151.2,340.1 154.0,337.5 156.8,335.1 159.5,332.8 162.2,330.7 165.0,328.9 167.8,327.2 170.5,325.8 173.2,324.7 176.0,323.8 178.8,323.0 181.5,322.3 184.2,321.6 187.0,321.0 189.8,320.4 192.5,319.9 195.2,319.5 198.0,319.0 200.8,318.6 203.5,318.3 206.2,317.9 209.0,317.6 211.8,317.3 214.5,317.0 217.2,316.7 220.0,316.5 222.8,316.2 225.5,316.0 228.2,315.8 231.0,315.6 233.8,315.5 236.5,315.4 239.2,315.2 242.0,315.1 244.8,315.0 247.5,314.9 250.2,314.8 253.0,314.8 255.8,314.7 258.5,314.6 261.2,314.6 264.0,314.6" stroke="#3f8c5a" stroke-width="0.75" fill="none"/>
<path d="M49.5,398.2 52.2,398.2 55.0,398.2 57.8,398.2 60.5,398.2 63.2,398.2 66.0,398.2 68.8,398.2 71.5,398.2 74.2,398.2 77.0,398.2 79.8,398.2 82.5,398.2 85.2,398.2 88.0,398.2 90.8,398.2 93.5,398.2 96.2,398.2 99.0,398.2 101.8,398.2 104.5,398.2 107.2,398.2 110.0,398.0 112.8,396.6 115.5,394.6 118.2,392.4 121.0,389.6 123.8,386.3 126.5,382.5 129.2,378.3 132.0,372.7 134.8,366.5 137.5,361.0 140.2,356.2 143.0,351.6 145.8,347.4 148.5,343.9 151.2,341.1 154.0,338.6 156.8,336.3 159.5,334.1 162.2,332.1 165.0,330.3 167.8,328.7 170.5,327.3 173.2,326.3 176.0,325.4 178.8,324.6 181.5,323.9 184.2,323.3 187.0,322.7 189.8,322.2 192.5,321.7 195.2,321.2 198.0,320.8 200.8,320.4 203.5,320.1 206.2,319.7 209.0,319.4 211.8,319.1 214.5,318.8 217.2,318.6 220.0,318.3 222.8,318.1 225.5,317.9 228.2,317.7 231.0,317.5 233.8,317.3 236.5,317.2 239.2,317.1 242.0,317.0 244.8,316.9 247.5,316.8 250.2,316.7 253.0,316.6 255.8,316.6 258.5,316.5 261.2,316.5 264.0,316.5" stroke="#7db592" stroke-width="0.75" fill="none"/>
<path d="M49.5,398.2 52.2,398.2 55.0,398.2 57.8,398.2 60.5,398.2 63.2,398.2 66.0,398.2 68.8,398.2 71.5,398.2 74.2,398.2 77.0,398.2 79.8,398.2 82.5,398.2 85.2,398.2 88.0,398.2 90.8,398.2 93.5,398.2 96.2,398.2 99.0,398.2 101.8,398.2 104.5,398.2 107.2,398.2 110.0,397.9 112.8,396.5 115.5,394.5 118.2,392.3 121.0,389.5 123.8,386.2 126.5,382.5 129.2,378.3 132.0,372.7 134.8,366.6 137.5,361.2 140.2,356.5 143.0,352.0 145.8,347.9 148.5,344.5 151.2,341.8 154.0,339.3 156.8,337.0 159.5,334.8 162.2,332.9 165.0,331.1 167.8,329.6 170.5,328.3 173.2,327.2 176.0,326.4 178.8,325.6 181.5,324.9 184.2,324.3 187.0,323.7 189.8,323.2 192.5,322.7 195.2,322.3 198.0,321.9 200.8,321.5 203.5,321.1 206.2,320.8 209.0,320.5 211.8,320.2 214.5,319.9 217.2,319.7 220.0,319.4 222.8,319.2 225.5,319.0 228.2,318.8 231.0,318.6 233.8,318.5 236.5,318.3 239.2,318.2 242.0,318.1 244.8,318.0 247.5,317.9 250.2,317.9 253.0,317.8 255.8,317.7 258.5,317.7 261.2,317.6 264.0,317.6" stroke="#7db592" stroke-width="0.75" fill="none"/>
<path d="M49.5,398.2 52.2,398.2 55.0,398.2 57.8,398.2 60.5,398.2 63.2,398.2 66.0,398.2 68.8,398.2 71.5,398.2 74.2,398.2 77.0,398.2 79.8,398.2 82.5,398.2 85.2,398.2 88.0,398.2 90.8,398.2 93.5,398.2 96.2,398.2 99.0,398.2 101.8,398.2 104.5,398.2 107.2,398.2 110.0,398.2 112.8,398.2 115.5,398.2 118.2,398.2 121.0,398.2 123.8,398.2 126.5,398.2 129.2,397.2 132.0,395.0 134.8,392.6 137.5,389.7 140.2,386.1 143.0,381.9 145.8,377.3 148.5,371.6 151.2,364.6 154.0,357.6 156.8,351.8 159.5,346.4 162.2,341.3 165.0,336.8 167.8,333.2 170.5,330.2 173.2,327.4 176.0,324.7 178.8,322.3 181.5,320.1 184.2,318.2 187.0,316.5 189.8,315.1 192.5,314.0 195.2,313.0 198.0,312.2 200.8,311.4 203.5,310.7 206.2,310.1 209.0,309.5 211.8,308.9 214.5,308.4 217.2,307.9 220.0,307.5 222.8,307.1 225.5,306.7 228.2,306.4 231.0,306.1 233.8,305.7 236.5,305.4 239.2,305.1 242.0,304.9 244.8,304.6 247.5,304.4 250.2,304.3 253.0,304.1 255.8,304.0 258.5,303.8 261.2,303.7 264.0,303.6" stroke="#267541" stroke-width="0.85" fill="none"/>
<path d="M49.5,398.2 52.2,398.2 55.0,398.2 57.8,398.2 60.5,398.2 63.2,398.2 66.0,398.2 68.8,398.2 71.5,398.2 74.2,398.2 77.0,398.2 79.8,398.2 82.5,398.2 85.2,398.2 88.0,398.2 90.8,398.2 93.5,398.2 96.2,398.2 99.0,398.2 101.8,398.2 104.5,398.2 107.2,398.2 110.0,398.2 112.8,398.2 115.5,398.2 118.2,398.2 121.0,398.2 123.8,398.2 126.5,398.2 129.2,398.2 132.0,398.2 134.8,398.2 137.5,398.2 140.2,398.2 143.0,398.2 145.8,398.2 148.5,397.4 151.2,395.4 154.0,393.0 156.8,390.2 159.5,386.8 162.2,382.8 165.0,378.3 167.8,372.9 170.5,366.1 173.2,359.2 176.0,353.4 178.8,348.0 181.5,343.0 184.2,338.5 187.0,334.9 189.8,331.9 192.5,329.1 195.2,326.5 198.0,324.1 200.8,321.9 203.5,320.0 206.2,318.3 209.0,316.9 211.8,315.8 214.5,314.9 217.2,314.0 220.0,313.2 222.8,312.5 225.5,311.9 228.2,311.3 231.0,310.8 233.8,310.3 236.5,309.8 239.2,309.4 242.0,309.0 244.8,308.6 247.5,308.3 250.2,307.9 253.0,307.6 255.8,307.3 258.5,307.0 261.2,306.8 264.0,306.5" stroke="#267541" stroke-width="0.85" fill="none"/>
<path d="M49.5,398.2 52.2,398.2 55.0,398.2 57.8,398.2 60.5,398.2 63.2,398.2 66.0,398.2 68.8,398.2 71.5,398.2 74.2,398.2 77.0,398.2 79.8,398.2 82.5,398.2 85.2,398.2 88.0,398.2 90.8,398.2 93.5,398.2 96.2,398.2 99.0,398.2 101.8,398.2 104.5,398.2 107.2,398.2 110.0,398.2 112.8,398.2 115.5,398.2 118.2,398.2 121.0,398.2 123.8,398.2 126.5,398.2 129.2,398.2 132.0,398.2 134.8,398.2 137.5,398.2 140.2,398.2 143.0,398.2 145.8,398.2 148.5,398.2 151.2,398.2 154.0,398.2 156.8,398.2 159.5,398.2 162.2,398.2 165.0,397.9 167.8,396.2 170.5,393.9 173.2,391.4 176.0,388.2 178.8,384.4 181.5,380.1 184.2,375.3 187.0,368.9 189.8,362.0 192.5,355.8 195.2,350.5 198.0,345.3 200.8,340.7 203.5,336.8 206.2,333.7 209.0,330.9 211.8,328.3 214.5,325.8 217.2,323.6 220.0,321.6 222.8,319.8 225.5,318.3 228.2,317.1 231.0,316.2 233.8,315.3 236.5,314.5 239.2,313.8 242.0,313.2 244.8,312.6 247.5,312.0 250.2,311.5 253.0,311.0 255.8,310.6 258.5,310.2 261.2,309.8 264.0,309.5" stroke="#267541" stroke-width="0.85" fill="none"/>
<path d="M49.5,398.2 52.2,398.2 55.0,398.2 57.8,398.2 60.5,398.2 63.2,398.2 66.0,398.2 68.8,398.2 71.5,398.2 74.2,398.2 77.0,398.2 79.8,398.2 82.5,398.2 85.2,398.2 88.0,398.2 90.8,398.2 93.5,398.2 96.2,398.2 99.0,398.2 101.8,398.2 104.5,398.2 107.2,398.2 110.0,398.2 112.8,398.2 115.5,398.2 118.2,398.2 121.0,398.2 123.8,398.2 126.5,398.2 129.2,398.2 132.0,398.2 134.8,398.2 137.5,398.2 140.2,398.2 143.0,398.2 145.8,398.2 148.5,398.2 151.2,398.2 154.0,398.2 156.8,398.2 159.5,398.2 162.2,398.2 165.0,398.0 167.8,396.7 170.5,394.5 173.2,392.2 176.0,389.3 178.8,385.8 181.5,381.8 184.2,377.4 187.0,371.6 189.8,364.9 192.5,358.9 195.2,353.8 198.0,348.8 200.8,344.3 203.5,340.4 206.2,337.4 209.0,334.7 211.8,332.2 214.5,329.8 217.2,327.6 220.0,325.7 222.8,324.0 225.5,322.5 228.2,321.3 231.0,320.4 233.8,319.6 236.5,318.8 239.2,318.1 242.0,317.5 244.8,316.9 247.5,316.4 250.2,315.9 253.0,315.4 255.8,315.0 258.5,314.6 261.2,314.3 264.0,313.9" stroke="#7db592" stroke-width="0.75" fill="none"/>
<path d="M49.5,398.2 52.2,398.2 55.0,398.2 57.8,398.2 60.5,398.2 63.2,398.2 66.0,398.2 68.8,398.2 71.5,398.2 74.2,398.2 77.0,398.2 79.8,398.2 82.5,398.2 85.2,398.2 88.0,398.2 90.8,398.2 93.5,398.2 96.2,398.2 99.0,398.2 101.8,398.2 104.5,398.2 107.2,398.2 110.0,398.2 112.8,398.2 115.5,398.2 118.2,398.2 121.0,398.2 123.8,398.2 126.5,398.2 129.2,398.2 132.0,398.2 134.8,398.2 137.5,398.2 140.2,398.2 143.0,398.2 145.8,398.2 148.5,398.2 151.2,398.2 154.0,398.2 156.8,398.2 159.5,398.2 162.2,398.2 165.0,398.2 167.8,398.2 170.5,398.2 173.2,398.2 176.0,398.2 178.8,398.2 181.5,398.2 184.2,397.6 187.0,395.8 189.8,393.6 192.5,391.1 195.2,387.9 198.0,384.2 200.8,380.1 203.5,374.1 206.2,365.9 209.0,358.4 211.8,352.0 214.5,346.0 217.2,341.0 220.0,337.2 222.8,333.8 225.5,330.7 228.2,328.0 231.0,325.5 233.8,323.5 236.5,321.8 239.2,320.5 242.0,319.5 244.8,318.6 247.5,317.7 250.2,317.0 253.0,316.3 255.8,315.7 258.5,315.2 261.2,314.7 264.0,314.2" stroke="#267541" stroke-width="0.85" fill="none"/>
<path d="M49.5,398.2 52.2,398.2 55.0,398.2 57.8,398.2 60.5,398.2 63.2,398.2 66.0,398.2 68.8,398.2 71.5,398.2 74.2,398.2 77.0,398.2 79.8,398.2 82.5,398.2 85.2,398.2 88.0,398.2 90.8,398.2 93.5,398.2 96.2,398.2 99.0,398.2 101.8,398.2 104.5,398.2 107.2,398.2 110.0,398.2 112.8,398.2 115.5,398.2 118.2,398.2 121.0,398.2 123.8,398.2 126.5,398.2 129.2,398.2 132.0,398.2 134.8,398.2 137.5,398.2 140.2,398.2 143.0,398.2 145.8,398.2 148.5,398.2 151.2,398.2 154.0,398.2 156.8,398.2 159.5,398.2 162.2,398.2 165.0,398.2 167.8,398.2 170.5,398.2 173.2,398.2 176.0,398.2 178.8,398.2 181.5,398.2 184.2,398.0 187.0,396.5 189.8,394.4 192.5,392.1 195.2,389.2 198.0,385.7 200.8,381.7 203.5,376.8 206.2,369.3 209.0,361.4 211.8,355.0 214.5,349.0 217.2,343.7 220.0,339.6 222.8,336.2 225.5,333.1 228.2,330.3 231.0,327.8 233.8,325.7 236.5,323.9 239.2,322.6 242.0,321.5 244.8,320.6 247.5,319.7 250.2,319.0 253.0,318.3 255.8,317.7 258.5,317.2 261.2,316.7 264.0,316.2" stroke="#7db592" stroke-width="0.75" fill="none"/>
<path d="M49.5,398.2 52.2,398.2 55.0,398.2 57.8,398.2 60.5,398.2 63.2,398.2 66.0,398.2 68.8,398.2 71.5,398.2 74.2,398.2 77.0,398.2 79.8,398.2 82.5,398.2 85.2,398.2 88.0,398.2 90.8,398.2 93.5,398.2 96.2,398.2 99.0,398.2 101.8,398.2 104.5,398.2 107.2,398.2 110.0,398.2 112.8,398.2 115.5,398.2 118.2,398.2 121.0,398.2 123.8,398.2 126.5,398.2 129.2,398.2 132.0,398.2 134.8,398.2 137.5,398.2 140.2,398.2 143.0,398.2 145.8,398.2 148.5,398.2 151.2,398.2 154.0,398.2 156.8,398.2 159.5,398.2 162.2,398.2 165.0,398.2 167.8,398.2 170.5,398.2 173.2,398.2 176.0,398.2 178.8,398.2 181.5,398.2 184.2,398.2 187.0,398.2 189.8,398.2 192.5,398.2 195.2,398.2 198.0,398.2 200.8,398.1 203.5,396.9 206.2,394.8 209.0,392.6 211.8,389.8 214.5,386.4 217.2,382.6 220.0,378.1 222.8,370.9 225.5,362.9 228.2,356.3 231.0,350.2 233.8,344.7 236.5,340.3 239.2,336.9 242.0,333.7 244.8,330.9 247.5,328.3 250.2,326.1 253.0,324.2 255.8,322.8 258.5,321.7 261.2,320.8 264.0,319.9" stroke="#7db592" stroke-width="0.75" fill="none"/>
<path d="M49.5,398.2 52.2,398.2 55.0,398.2 57.8,398.2 60.5,398.2 63.2,398.2 66.0,398.2 68.8,398.2 71.5,398.2 74.2,398.2 77.0,398.2 79.8,398.2 82.5,398.2 85.2,398.2 88.0,398.2 90.8,398.2 93.5,398.2 96.2,398.2 99.0,398.2 101.8,398.2 104.5,398.2 107.2,398.2 110.0,398.2 112.8,398.2 115.5,398.2 118.2,398.2 121.0,398.2 123.8,398.2 126.5,398.2 129.2,398.2 132.0,398.2 134.8,398.2 137.5,398.2 140.2,398.2 143.0,398.2 145.8,398.2 148.5,398.2 151.2,398.2 154.0,398.2 156.8,398.2 159.5,398.2 162.2,398.2 165.0,398.2 167.8,398.2 170.5,398.2 173.2,398.2 176.0,398.2 178.8,398.2 181.5,398.2 184.2,398.2 187.0,398.2 189.8,398.2 192.5,398.2 195.2,398.2 198.0,398.2 200.8,398.2 203.5,397.4 206.2,395.5 209.0,393.4 211.8,390.9 214.5,387.7 217.2,384.1 220.0,380.0 222.8,374.0 225.5,366.1 228.2,359.2 231.0,353.1 233.8,347.5 236.5,342.8 239.2,339.3 242.0,336.1 244.8,333.2 247.5,330.6 250.2,328.3 253.0,326.4 255.8,324.9 258.5,323.8 261.2,322.8 264.0,321.9" stroke="#7db592" stroke-width="0.75" fill="none"/>
<path d="M49.5,398.2 52.2,398.2 55.0,398.2 57.8,398.2 60.5,398.2 63.2,398.2 66.0,398.2 68.8,398.2 71.5,398.2 74.2,398.2 77.0,398.2 79.8,398.2 82.5,398.2 85.2,398.2 88.0,398.2 90.8,398.2 93.5,398.2 96.2,398.2 99.0,398.2 101.8,398.2 104.5,398.2 107.2,398.2 110.0,398.2 112.8,398.2 115.5,398.2 118.2,398.2 121.0,398.2 123.8,398.2 126.5,398.2 129.2,398.2 132.0,398.2 134.8,398.2 137.5,398.2 140.2,398.2 143.0,398.2 145.8,398.2 148.5,398.2 151.2,398.2 154.0,398.2 156.8,398.2 159.5,398.2 162.2,398.2 165.0,398.2 167.8,398.2 170.5,398.2 173.2,398.2 176.0,398.2 178.8,398.2 181.5,398.2 184.2,398.2 187.0,398.2 189.8,398.2 192.5,398.2 195.2,398.2 198.0,398.2 200.8,398.2 203.5,397.8 206.2,396.2 209.0,394.1 211.8,391.9 214.5,389.0 217.2,385.5 220.0,381.7 222.8,376.8 225.5,369.3 228.2,362.0 231.0,356.0 233.8,350.3 236.5,345.4 239.2,341.7 242.0,338.5 244.8,335.6 247.5,332.9 250.2,330.6 253.0,328.6 255.8,327.0 258.5,325.8 261.2,324.8 264.0,323.9" stroke="#7db592" stroke-width="0.75" fill="none"/>
<path d="M49.5,398.2 52.2,398.2 55.0,398.2 57.8,398.2 60.5,398.2 63.2,398.2 66.0,398.2 68.8,398.2 71.5,398.2 74.2,398.2 77.0,398.2 79.8,398.2 82.5,398.2 85.2,398.2 88.0,398.2 90.8,398.2 93.5,398.2 96.2,398.2 99.0,398.2 101.8,398.2 104.5,398.2 107.2,398.2 110.0,398.2 112.8,398.2 115.5,398.2 118.2,398.2 121.0,398.2 123.8,398.2 126.5,398.2 129.2,398.2 132.0,398.2 134.8,398.2 137.5,398.2 140.2,398.2 143.0,398.2 145.8,398.2 148.5,398.2 151.2,398.2 154.0,398.2 156.8,398.2 159.5,398.2 162.2,398.2 165.0,398.2 167.8,398.2 170.5,398.2 173.2,398.2 176.0,398.2 178.8,398.2 181.5,398.2 184.2,398.2 187.0,398.2 189.8,398.2 192.5,398.2 195.2,398.2 198.0,398.2 200.8,398.2 203.5,398.2 206.2,397.1 209.0,395.1 211.8,393.0 214.5,390.3 217.2,387.0 220.0,383.3 222.8,379.2 225.5,372.4 228.2,364.6 231.0,357.9 233.8,351.9 236.5,346.5 239.2,342.0 242.0,338.6 244.8,335.5 247.5,332.7 250.2,330.1 253.0,327.9 255.8,326.1 258.5,324.6 261.2,323.5 264.0,322.6" stroke="#7db592" stroke-width="0.75" fill="none"/>
<path d="M49.5,398.2 52.2,398.2 55.0,398.2 57.8,398.2 60.5,398.2 63.2,398.2 66.0,398.2 68.8,398.2 71.5,398.2 74.2,398.2 77.0,398.2 79.8,398.2 82.5,398.2 85.2,398.2 88.0,398.2 90.8,398.2 93.5,398.2 96.2,398.2 99.0,398.2 101.8,398.2 104.5,398.2 107.2,398.2 110.0,398.2 112.8,398.2 115.5,398.2 118.2,398.2 121.0,398.2 123.8,398.2 126.5,398.2 129.2,398.2 132.0,398.2 134.8,398.2 137.5,398.2 140.2,398.2 143.0,398.2 145.8,398.2 148.5,398.2 151.2,398.2 154.0,398.2 156.8,398.2 159.5,398.2 162.2,398.2 165.0,398.2 167.8,398.2 170.5,398.2 173.2,398.2 176.0,398.2 178.8,398.2 181.5,398.2 184.2,398.2 187.0,398.2 189.8,398.2 192.5,398.2 195.2,398.2 198.0,398.2 200.8,398.2 203.5,398.2 206.2,398.2 209.0,398.2 211.8,398.2 214.5,398.2 217.2,398.2 220.0,398.2 222.8,397.6 225.5,395.8 228.2,393.6 231.0,391.1 233.8,387.9 236.5,384.2 239.2,380.1 242.0,374.1 244.8,365.9 247.5,358.4 250.2,352.0 253.0,346.0 255.8,341.0 258.5,337.2 261.2,333.8 264.0,330.7" stroke="#267541" stroke-width="0.85" fill="none"/>
<path d="M49.5,398.2 52.2,398.2 55.0,398.2 57.8,398.2 60.5,398.2 63.2,398.2 66.0,398.2 68.8,398.2 71.5,398.2 74.2,398.2 77.0,398.2 79.8,398.2 82.5,398.2 85.2,398.2 88.0,398.2 90.8,398.2 93.5,398.2 96.2,398.2 99.0,398.2 101.8,398.2 104.5,398.2 107.2,398.2 110.0,398.2 112.8,398.2 115.5,398.2 118.2,398.2 121.0,398.2 123.8,398.2 126.5,398.2 129.2,398.2 132.0,398.2 134.8,398.2 137.5,398.2 140.2,398.2 143.0,398.2 145.8,398.2 148.5,398.2 151.2,398.2 154.0,398.2 156.8,398.2 159.5,398.2 162.2,398.2 165.0,398.2 167.8,398.2 170.5,398.2 173.2,398.2 176.0,398.2 178.8,398.2 181.5,398.2 184.2,398.2 187.0,398.2 189.8,398.2 192.5,398.2 195.2,398.2 198.0,398.2 200.8,398.2 203.5,398.2 206.2,398.2 209.0,398.2 211.8,398.2 214.5,398.2 217.2,398.2 220.0,398.2 222.8,398.2 225.5,398.2 228.2,398.2 231.0,398.2 233.8,398.2 236.5,398.2 239.2,398.2 242.0,397.7 244.8,396.0 247.5,393.8 250.2,391.4 253.0,388.4 255.8,384.9 258.5,380.9 261.2,375.4 264.0,367.7" stroke="#7db592" stroke-width="0.75" fill="none"/>
<path d="M49.5,398.2 52.2,398.2 55.0,398.2 57.8,398.2 60.5,398.2 63.2,398.2 66.0,398.2 68.8,398.2 71.5,398.2 74.2,398.2 77.0,398.2 79.8,398.2 82.5,398.2 85.2,398.2 88.0,398.2 90.8,398.2 93.5,398.2 96.2,398.2 99.0,398.2 101.8,398.2 104.5,398.2 107.2,398.2 110.0,398.2 112.8,398.2 115.5,398.2 118.2,398.2 121.0,398.2 123.8,398.2 126.5,398.2 129.2,398.2 132.0,398.2 134.8,398.2 137.5,398.2 140.2,398.2 143.0,398.2 145.8,398.2 148.5,398.2 151.2,398.2 154.0,398.2 156.8,398.2 159.5,398.2 162.2,398.2 165.0,398.2 167.8,398.2 170.5,398.2 173.2,398.2 176.0,398.2 178.8,398.2 181.5,398.2 184.2,398.2 187.0,398.2 189.8,398.2 192.5,398.2 195.2,398.2 198.0,398.2 200.8,398.2 203.5,398.2 206.2,398.2 209.0,398.2 211.8,398.2 214.5,398.2 217.2,398.2 220.0,398.2 222.8,398.2 225.5,398.2 228.2,398.2 231.0,398.2 233.8,398.2 236.5,398.2 239.2,398.2 242.0,397.9 244.8,396.4 247.5,394.4 250.2,392.3 253.0,389.5 255.8,386.2 258.5,382.5 261.2,378.0 264.0,370.9" stroke="#7db592" stroke-width="0.75" fill="none"/>
<path d="M49.5,397.6 52.2,397.7 55.0,397.8 57.8,397.9 60.5,397.9 63.2,398.0 66.0,398.0 68.8,398.0 71.5,398.0 74.2,398.1 77.0,398.1 79.8,398.1 82.5,398.1 85.2,398.1 88.0,398.1 90.8,398.1 93.5,398.1 96.2,398.1 99.0,398.1 101.8,398.1 104.5,398.1 107.2,398.1 110.0,398.1 112.8,398.1 115.5,398.1 118.2,398.1 121.0,398.1 123.8,398.1 126.5,398.1 129.2,398.1 132.0,398.1 134.8,398.1 137.5,398.1 140.2,398.1 143.0,398.1 145.8,398.1 148.5,398.1 151.2,398.1 154.0,398.1 156.8,398.1 159.5,398.1 162.2,398.1 165.0,398.1 167.8,398.1 170.5,398.1 173.2,398.1 176.0,398.1 178.8,398.1 181.5,398.1 184.2,398.1 187.0,398.1 189.8,398.1 192.5,398.1 195.2,398.1 198.0,398.1 200.8,398.1 203.5,398.1 206.2,398.1 209.0,398.1 211.8,398.1 214.5,398.1 217.2,398.1 220.0,398.1 222.8,398.1 225.5,398.1 228.2,398.1 231.0,398.1 233.8,398.1 236.5,398.1 239.2,398.1 242.0,398.1 244.8,398.1 247.5,398.1 250.2,398.1 253.0,398.1 255.8,398.1 258.5,398.1 261.2,398.1 264.0,398.1" stroke="#1a6633" stroke-width="1.3" fill="none"/>
<path d="M49.5,396.5 52.2,396.5 55.0,396.6 57.8,396.7 60.5,396.7 63.2,396.7 66.0,396.7 68.8,396.8 71.5,396.8 74.2,396.8 77.0,396.8 79.8,396.8 82.5,396.8 85.2,396.8 88.0,396.8 90.8,396.8 93.5,396.8 96.2,396.8 99.0,396.8 101.8,396.8 104.5,396.8 107.2,396.8 110.0,396.8 112.8,396.8 115.5,396.8 118.2,396.8 121.0,396.8 123.8,396.8 126.5,396.8 129.2,396.8 132.0,396.8 134.8,396.8 137.5,396.8 140.2,396.8 143.0,396.8 145.8,396.8 148.5,396.8 151.2,396.8 154.0,396.8 156.8,396.8 159.5,396.8 162.2,396.8 165.0,396.8 167.8,396.8 170.5,396.8 173.2,396.8 176.0,396.8 178.8,396.8 181.5,396.8 184.2,396.8 187.0,396.8 189.8,396.8 192.5,396.8 195.2,396.8 198.0,396.8 200.8,396.8 203.5,396.8 206.2,396.8 209.0,396.8 211.8,396.8 214.5,396.8 217.2,396.8 220.0,396.8 222.8,396.8 225.5,396.8 228.2,396.8 231.0,396.8 233.8,396.8 236.5,396.8 239.2,396.8 242.0,396.8 244.8,396.8 247.5,396.8 250.2,396.8 253.0,396.8 255.8,396.8 258.5,396.8 261.2,396.8 264.0,396.8" stroke="#6fae82" stroke-width="0.6" fill="none"/>
<path d="M181.5,396.5 182.6,396.5 183.6,396.5 184.7,396.5 185.7,396.5 186.8,396.5 187.8,396.5 188.9,396.5 190.0,396.5 191.0,396.5 192.1,396.5 193.1,396.5 194.2,396.5 195.2,396.5 196.3,396.5 197.4,396.5 198.4,396.5 199.5,396.5 200.5,396.5 201.6,396.5 202.7,396.5 203.7,396.5 204.8,396.5 205.8,396.5 206.9,396.5 207.9,396.5 209.0,396.5 210.1,396.5 211.1,396.5 212.2,396.5 213.2,396.5 214.3,396.5 215.3,396.5 216.4,396.5 217.5,396.5 218.5,396.5 219.6,396.5 220.6,396.5 221.7,396.5 222.8,396.5 223.8,396.5 224.9,396.5 225.9,396.5 227.0,396.5 228.0,396.5 229.1,396.5 230.2,396.5 231.2,396.5 232.3,396.5 233.3,396.5 234.4,396.5 235.4,396.5 236.5,396.5 237.6,396.5 238.6,396.5 239.7,396.5 240.7,396.5 241.8,396.5 242.8,396.5 243.9,396.5 245.0,396.5 246.0,396.5 247.1,396.5 248.1,396.5 249.2,396.5 250.2,396.5 251.3,396.5 252.4,396.5 253.4,396.5 254.5,396.5 255.5,396.5 256.6,396.5 257.7,396.5 258.7,396.5 259.8,396.5 260.8,396.5 261.9,396.5 262.9,396.5 264.0,396.5" stroke="#3f8a57" stroke-width="0.7" fill="none"/>
<text x="121.7" y="378.8" font-size="5.9" text-anchor="middle" font-weight="normal" font-style="normal" fill="#3a3a3a" stroke="#3a3a3a" stroke-width="0.14">10<tspan font-size="3.5" dy="-2.1">8</tspan></text>
<text x="141.4" y="378.8" font-size="5.9" text-anchor="middle" font-weight="normal" font-style="normal" fill="#3a3a3a" stroke="#3a3a3a" stroke-width="0.14">10<tspan font-size="3.5" dy="-2.1">7</tspan></text>
<text x="159.2" y="378.8" font-size="5.9" text-anchor="middle" font-weight="normal" font-style="normal" fill="#3a3a3a" stroke="#3a3a3a" stroke-width="0.14">10<tspan font-size="3.5" dy="-2.1">6</tspan></text>
<text x="177" y="378.8" font-size="5.9" text-anchor="middle" font-weight="normal" font-style="normal" fill="#3a3a3a" stroke="#3a3a3a" stroke-width="0.14">10<tspan font-size="3.5" dy="-2.1">5</tspan></text>
<text x="196.4" y="378.8" font-size="5.9" text-anchor="middle" font-weight="normal" font-style="normal" fill="#3a3a3a" stroke="#3a3a3a" stroke-width="0.14">10<tspan font-size="3.5" dy="-2.1">4</tspan></text>
<text x="214.5" y="378.8" font-size="5.9" text-anchor="middle" font-weight="normal" font-style="normal" fill="#3a3a3a" stroke="#3a3a3a" stroke-width="0.14">10<tspan font-size="3.5" dy="-2.1">3</tspan></text>
<text x="232.6" y="378.8" font-size="5.9" text-anchor="middle" font-weight="normal" font-style="normal" fill="#3a3a3a" stroke="#3a3a3a" stroke-width="0.14">10<tspan font-size="3.5" dy="-2.1">2</tspan></text>
<text x="254.8" y="378.8" font-size="5.9" text-anchor="middle" font-weight="normal" font-style="normal" fill="#3a3a3a" stroke="#3a3a3a" stroke-width="0.14">10<tspan font-size="3.5" dy="-2.1">1</tspan></text>
<text x="55.3" y="393.9" font-size="5.4" text-anchor="start" font-weight="normal" font-style="normal" fill="#3a3a3a" stroke="#3a3a3a" stroke-width="0.14">50.0</text>
<text x="55.2" y="310.8" font-size="7.6" text-anchor="start" font-weight="bold" font-style="italic" fill="#111" stroke="#111" stroke-width="0.22">vanA</text>
<line x1="75.6" y1="308.3" x2="78.4" y2="308.3" stroke="#b5b5b5" stroke-width="0.7"/>
<text x="79.2" y="310.8" font-size="7.6" text-anchor="start" font-weight="bold" font-style="italic" fill="#111" stroke="#111" stroke-width="0.22">vanB</text>
<text x="6.8" y="307.4" font-size="12.8" text-anchor="start" font-weight="bold" font-style="normal" fill="#000" >C</text>
<path d="M318.5 156V261.2M348.5 156V261.2M378.5 156V261.2M408.5 156V261.2M438.5 156V261.2M468.5 156V261.2M498.5 156V261.2M528.5 156V261.2M308 252.5H539.5M308 231.5H539.5M308 211.5H539.5M308 191.5H539.5M308 171.5H539.5" stroke="#a8a8a8" stroke-width="1" stroke-dasharray="1 1.5" fill="none"/>
<path d="M307.4 155.5H539.5" stroke="#777" stroke-width="0.9" fill="none"/>
<path d="M539.5 155.5V261.2" stroke="#444" stroke-width="0.9" fill="none"/>
<path d="M307.4 261.2H539.5" stroke="#333" stroke-width="1.0" fill="none"/>
<path d="M307.4 155.5V261.2" stroke="#333" stroke-width="1.0" fill="none"/>
<path d="M312.1 260.3V262.1M312.1 155.5v1M318.1 260.3V262.1M318.1 155.5v1M324.1 260.3V262.1M324.1 155.5v1M330.1 260.3V262.1M330.1 155.5v1M336.1 260.3V262.1M336.1 155.5v1M342.1 260.3V262.1M342.1 155.5v1M348.1 260.3V262.1M348.1 155.5v1M354.1 260.3V262.1M354.1 155.5v1M360.1 260.3V262.1M360.1 155.5v1M366.1 260.3V262.1M366.1 155.5v1M372.1 260.3V262.1M372.1 155.5v1M378.1 260.3V262.1M378.1 155.5v1M384.1 260.3V262.1M384.1 155.5v1M390.1 260.3V262.1M390.1 155.5v1M396.1 260.3V262.1M396.1 155.5v1M402.1 260.3V262.1M402.1 155.5v1M408.1 260.3V262.1M408.1 155.5v1M414.1 260.3V262.1M414.1 155.5v1M420.1 260.3V262.1M420.1 155.5v1M426.1 260.3V262.1M426.1 155.5v1M432.1 260.3V262.1M432.1 155.5v1M438.1 260.3V262.1M438.1 155.5v1M444.1 260.3V262.1M444.1 155.5v1M450.1 260.3V262.1M450.1 155.5v1M456.1 260.3V262.1M456.1 155.5v1M462.1 260.3V262.1M462.1 155.5v1M468.1 260.3V262.1M468.1 155.5v1M474.1 260.3V262.1M474.1 155.5v1M480.1 260.3V262.1M480.1 155.5v1M486.1 260.3V262.1M486.1 155.5v1M492.1 260.3V262.1M492.1 155.5v1M498.1 260.3V262.1M498.1 155.5v1M504.1 260.3V262.1M504.1 155.5v1M510.1 260.3V262.1M510.1 155.5v1M516.1 260.3V262.1M516.1 155.5v1M522.1 260.3V262.1M522.1 155.5v1M528.1 260.3V262.1M528.1 155.5v1M534.1 260.3V262.1M534.1 155.5v1M306.5 260.1H308.3M306.5 256.05H308.3M306.5 252H308.3M306.5 247.95H308.3M306.5 243.9H308.3M306.5 239.85H308.3M306.5 235.8H308.3M306.5 231.75H308.3M306.5 227.7H308.3M306.5 223.65H308.3M306.5 219.6H308.3M306.5 215.55H308.3M306.5 211.5H308.3M306.5 207.45H308.3M306.5 203.4H308.3M306.5 199.35H308.3M306.5 195.3H308.3M306.5 191.25H308.3M306.5 187.2H308.3M306.5 183.15H308.3M306.5 179.1H308.3M306.5 175.05H308.3M306.5 171H308.3M306.5 166.95H308.3M306.5 162.9H308.3M306.5 158.85H308.3" stroke="#333" stroke-width="0.8" fill="none"/>
<path d="M318.1 259.6V263.2M348.1 259.6V263.2M378.1 259.6V263.2M408.1 259.6V263.2M438.1 259.6V263.2M468.1 259.6V263.2M498.1 259.6V263.2M528.1 259.6V263.2M305.4 252H309M305.4 231.75H309M305.4 211.5H309M305.4 191.25H309M305.4 171H309" stroke="#333" stroke-width="0.8" fill="none"/>
<path d="M539.5 252h-1.8M539.5 231.75h-1.8M539.5 211.5h-1.8M539.5 191.25h-1.8M539.5 171h-1.8" stroke="#444" stroke-width="0.8"/>
<text x="302.2" y="254.3" font-size="6.6" text-anchor="end" font-weight="normal" font-style="normal" fill="#333" stroke="#333" stroke-width="0.14">10</text>
<text x="302.2" y="234.05" font-size="6.6" text-anchor="end" font-weight="normal" font-style="normal" fill="#333" stroke="#333" stroke-width="0.14">15</text>
<text x="302.2" y="213.8" font-size="6.6" text-anchor="end" font-weight="normal" font-style="normal" fill="#333" stroke="#333" stroke-width="0.14">20</text>
<text x="302.2" y="193.55" font-size="6.6" text-anchor="end" font-weight="normal" font-style="normal" fill="#333" stroke="#333" stroke-width="0.14">25</text>
<text x="302.2" y="173.3" font-size="6.6" text-anchor="end" font-weight="normal" font-style="normal" fill="#333" stroke="#333" stroke-width="0.14">30</text>
<text x="318.1" y="272" font-size="6.6" text-anchor="middle" font-weight="normal" font-style="normal" fill="#333" stroke="#333" stroke-width="0.14">1</text>
<text x="348.1" y="272" font-size="6.6" text-anchor="middle" font-weight="normal" font-style="normal" fill="#333" stroke="#333" stroke-width="0.14">2</text>
<text x="378.1" y="272" font-size="6.6" text-anchor="middle" font-weight="normal" font-style="normal" fill="#333" stroke="#333" stroke-width="0.14">3</text>
<text x="408.1" y="272" font-size="6.6" text-anchor="middle" font-weight="normal" font-style="normal" fill="#333" stroke="#333" stroke-width="0.14">4</text>
<text x="438.1" y="272" font-size="6.6" text-anchor="middle" font-weight="normal" font-style="normal" fill="#333" stroke="#333" stroke-width="0.14">5</text>
<text x="468.1" y="272" font-size="6.6" text-anchor="middle" font-weight="normal" font-style="normal" fill="#333" stroke="#333" stroke-width="0.14">6</text>
<text x="498.1" y="272" font-size="6.6" text-anchor="middle" font-weight="normal" font-style="normal" fill="#333" stroke="#333" stroke-width="0.14">7</text>
<text x="528.1" y="272" font-size="6.6" text-anchor="middle" font-weight="normal" font-style="normal" fill="#333" stroke="#333" stroke-width="0.14">8</text>
<text x="412.9" y="150.2" font-size="5.3" text-anchor="middle" font-weight="bold" font-style="normal" fill="#222" >Standard Curve</text>
<text transform="translate(289.6,208.7) rotate(-90)" font-size="7" text-anchor="middle" font-weight="bold" fill="#222">Cq</text>
<text x="418.1" y="165.1" font-size="5.8" text-anchor="start" font-weight="normal" font-style="normal" fill="#3a3a3a" stroke="#3a3a3a" stroke-width="0.14" textLength="6.6" lengthAdjust="spacingAndGlyphs">E=</text>
<text x="426.6" y="165.1" font-size="5.8" text-anchor="start" font-weight="normal" font-style="normal" fill="#3a3a3a" stroke="#3a3a3a" stroke-width="0.14" textLength="16.6" lengthAdjust="spacingAndGlyphs">94.9%</text>
<text x="443.7" y="165.1" font-size="5.8" text-anchor="start" font-weight="normal" font-style="normal" fill="#3a3a3a" stroke="#3a3a3a" stroke-width="0.14">R<tspan font-size="3.7" dy="-2">2</tspan><tspan dy="2">=</tspan></text>
<text x="454.6" y="165.1" font-size="5.8" text-anchor="start" font-weight="normal" font-style="normal" fill="#3a3a3a" stroke="#3a3a3a" stroke-width="0.14" textLength="13.7" lengthAdjust="spacingAndGlyphs">0.998</text>
<text x="471.7" y="165.1" font-size="5.8" text-anchor="start" font-weight="normal" font-style="normal" fill="#3a3a3a" stroke="#3a3a3a" stroke-width="0.14" textLength="3.5" lengthAdjust="spacingAndGlyphs">y</text>
<text x="477.1" y="165.1" font-size="5.8" text-anchor="start" font-weight="normal" font-style="normal" fill="#3a3a3a" stroke="#3a3a3a" stroke-width="0.14" textLength="3.0" lengthAdjust="spacingAndGlyphs">=</text>
<text x="483.3" y="165.1" font-size="5.8" text-anchor="start" font-weight="normal" font-style="normal" fill="#3a3a3a" stroke="#3a3a3a" stroke-width="0.14" textLength="4.4" lengthAdjust="spacingAndGlyphs">−</text>
<text x="489.1" y="165.1" font-size="5.8" text-anchor="start" font-weight="normal" font-style="normal" fill="#3a3a3a" stroke="#3a3a3a" stroke-width="0.14" textLength="16.6" lengthAdjust="spacingAndGlyphs">3.451x</text>
<text x="507.3" y="165.1" font-size="5.8" text-anchor="start" font-weight="normal" font-style="normal" fill="#3a3a3a" stroke="#3a3a3a" stroke-width="0.14" textLength="2.8" lengthAdjust="spacingAndGlyphs">+</text>
<text x="510.6" y="165.1" font-size="5.8" text-anchor="start" font-weight="normal" font-style="normal" fill="#3a3a3a" stroke="#3a3a3a" stroke-width="0.14" textLength="17.5" lengthAdjust="spacingAndGlyphs">36.702</text>
<line x1="318.1" y1="157.83" x2="528.1" y2="255.67" stroke="#4a8cc4" stroke-width="0.95"/>
<circle cx="318.1" cy="160.47" r="2.4" fill="#dbe8f4" fill-opacity="0.7" stroke="#2a6aa5" stroke-width="0.9"/>
<circle cx="318.1" cy="162.5" r="2.4" fill="#dbe8f4" fill-opacity="0.7" stroke="#2a6aa5" stroke-width="0.9"/>
<circle cx="348.1" cy="170.59" r="2.4" fill="#dbe8f4" fill-opacity="0.7" stroke="#2a6aa5" stroke-width="0.9"/>
<circle cx="348.1" cy="171" r="2.4" fill="#dbe8f4" fill-opacity="0.7" stroke="#2a6aa5" stroke-width="0.9"/>
<circle cx="378.1" cy="184.37" r="2.4" fill="#dbe8f4" fill-opacity="0.7" stroke="#2a6aa5" stroke-width="0.9"/>
<circle cx="378.1" cy="184.77" r="2.4" fill="#dbe8f4" fill-opacity="0.7" stroke="#2a6aa5" stroke-width="0.9"/>
<circle cx="408.1" cy="198.94" r="2.4" fill="#dbe8f4" fill-opacity="0.7" stroke="#2a6aa5" stroke-width="0.9"/>
<circle cx="408.1" cy="199.75" r="2.4" fill="#dbe8f4" fill-opacity="0.7" stroke="#2a6aa5" stroke-width="0.9"/>
<circle cx="438.1" cy="213.53" r="2.4" fill="#dbe8f4" fill-opacity="0.7" stroke="#2a6aa5" stroke-width="0.9"/>
<circle cx="438.1" cy="214.33" r="2.4" fill="#dbe8f4" fill-opacity="0.7" stroke="#2a6aa5" stroke-width="0.9"/>
<circle cx="468.1" cy="227.7" r="2.4" fill="#dbe8f4" fill-opacity="0.7" stroke="#2a6aa5" stroke-width="0.9"/>
<circle cx="468.1" cy="228.51" r="2.4" fill="#dbe8f4" fill-opacity="0.7" stroke="#2a6aa5" stroke-width="0.9"/>
<circle cx="498.1" cy="242.69" r="2.4" fill="#dbe8f4" fill-opacity="0.7" stroke="#2a6aa5" stroke-width="0.9"/>
<circle cx="498.1" cy="244.31" r="2.4" fill="#dbe8f4" fill-opacity="0.7" stroke="#2a6aa5" stroke-width="0.9"/>
<circle cx="528.1" cy="256.05" r="2.4" fill="#dbe8f4" fill-opacity="0.7" stroke="#2a6aa5" stroke-width="0.9"/>
<text x="319.2" y="247.9" font-size="7.9" text-anchor="start" font-weight="bold" font-style="italic" fill="#111" stroke="#111" stroke-width="0.22">mecA</text>
<path d="M320 301.4V401.3M350.07 301.4V401.3M380.14 301.4V401.3M410.21 301.4V401.3M440.28 301.4V401.3M470.35 301.4V401.3M500.42 301.4V401.3M530.49 301.4V401.3M303.8 383.1H543.5M303.8 364.2H543.5M303.8 345.3H543.5M303.8 326.4H543.5M303.8 307.5H543.5" stroke="#dddddd" stroke-width="0.8" fill="none"/>
<path d="M303.8 301.4H543.5" stroke="#a0a0a0" stroke-width="0.9" fill="none"/>
<path d="M543.5 301.4V401.3" stroke="#b0b0b0" stroke-width="0.9" fill="none"/>
<path d="M303.8 401.3H543.5" stroke="#8a8a8a" stroke-width="0.9" fill="none"/>
<path d="M303.8 301.4V401.3" stroke="#a0a0a0" stroke-width="0.9" fill="none"/>
<path d="M307.97 400.4V402.2M307.97 301.4v1M313.99 400.4V402.2M313.99 301.4v1M320 400.4V402.2M320 301.4v1M326.01 400.4V402.2M326.01 301.4v1M332.03 400.4V402.2M332.03 301.4v1M338.04 400.4V402.2M338.04 301.4v1M344.06 400.4V402.2M344.06 301.4v1M350.07 400.4V402.2M350.07 301.4v1M356.08 400.4V402.2M356.08 301.4v1M362.1 400.4V402.2M362.1 301.4v1M368.11 400.4V402.2M368.11 301.4v1M374.13 400.4V402.2M374.13 301.4v1M380.14 400.4V402.2M380.14 301.4v1M386.15 400.4V402.2M386.15 301.4v1M392.17 400.4V402.2M392.17 301.4v1M398.18 400.4V402.2M398.18 301.4v1M404.2 400.4V402.2M404.2 301.4v1M410.21 400.4V402.2M410.21 301.4v1M416.22 400.4V402.2M416.22 301.4v1M422.24 400.4V402.2M422.24 301.4v1M428.25 400.4V402.2M428.25 301.4v1M434.27 400.4V402.2M434.27 301.4v1M440.28 400.4V402.2M440.28 301.4v1M446.29 400.4V402.2M446.29 301.4v1M452.31 400.4V402.2M452.31 301.4v1M458.32 400.4V402.2M458.32 301.4v1M464.34 400.4V402.2M464.34 301.4v1M470.35 400.4V402.2M470.35 301.4v1M476.36 400.4V402.2M476.36 301.4v1M482.38 400.4V402.2M482.38 301.4v1M488.39 400.4V402.2M488.39 301.4v1M494.41 400.4V402.2M494.41 301.4v1M500.42 400.4V402.2M500.42 301.4v1M506.43 400.4V402.2M506.43 301.4v1M512.45 400.4V402.2M512.45 301.4v1M518.46 400.4V402.2M518.46 301.4v1M524.48 400.4V402.2M524.48 301.4v1M530.49 400.4V402.2M530.49 301.4v1M536.5 400.4V402.2M536.5 301.4v1M542.52 400.4V402.2M542.52 301.4v1M302.9 398.22H304.7M302.9 394.44H304.7M302.9 390.66H304.7M302.9 386.88H304.7M302.9 383.1H304.7M302.9 379.32H304.7M302.9 375.54H304.7M302.9 371.76H304.7M302.9 367.98H304.7M302.9 364.2H304.7M302.9 360.42H304.7M302.9 356.64H304.7M302.9 352.86H304.7M302.9 349.08H304.7M302.9 345.3H304.7M302.9 341.52H304.7M302.9 337.74H304.7M302.9 333.96H304.7M302.9 330.18H304.7M302.9 326.4H304.7M302.9 322.62H304.7M302.9 318.84H304.7M302.9 315.06H304.7M302.9 311.28H304.7M302.9 307.5H304.7M302.9 303.72H304.7" stroke="#555" stroke-width="0.9" fill="none"/>
<path d="M320 400.1V403.1M350.07 400.1V403.1M380.14 400.1V403.1M410.21 400.1V403.1M440.28 400.1V403.1M470.35 400.1V403.1M500.42 400.1V403.1M530.49 400.1V403.1M302 383.1H305M302 364.2H305M302 345.3H305M302 326.4H305M302 307.5H305" stroke="#555" stroke-width="0.8" fill="none"/>
<path d="M543.5 383.1h-1.8M543.5 364.2h-1.8M543.5 345.3h-1.8M543.5 326.4h-1.8M543.5 307.5h-1.8" stroke="#555" stroke-width="0.8"/>
<text x="299.3" y="385.3" font-size="6.3" text-anchor="end" font-weight="normal" font-style="normal" fill="#333" stroke="#333" stroke-width="0.14">15</text>
<text x="299.3" y="366.4" font-size="6.3" text-anchor="end" font-weight="normal" font-style="normal" fill="#333" stroke="#333" stroke-width="0.14">20</text>
<text x="299.3" y="347.5" font-size="6.3" text-anchor="end" font-weight="normal" font-style="normal" fill="#333" stroke="#333" stroke-width="0.14">25</text>
<text x="299.3" y="328.6" font-size="6.3" text-anchor="end" font-weight="normal" font-style="normal" fill="#333" stroke="#333" stroke-width="0.14">30</text>
<text x="299.3" y="309.7" font-size="6.3" text-anchor="end" font-weight="normal" font-style="normal" fill="#333" stroke="#333" stroke-width="0.14">35</text>
<text x="320" y="411.6" font-size="6.2" text-anchor="middle" font-weight="normal" font-style="normal" fill="#333" stroke="#333" stroke-width="0.14">1</text>
<text x="350.07" y="411.6" font-size="6.2" text-anchor="middle" font-weight="normal" font-style="normal" fill="#333" stroke="#333" stroke-width="0.14">2</text>
<text x="380.14" y="411.6" font-size="6.2" text-anchor="middle" font-weight="normal" font-style="normal" fill="#333" stroke="#333" stroke-width="0.14">3</text>
<text x="410.21" y="411.6" font-size="6.2" text-anchor="middle" font-weight="normal" font-style="normal" fill="#333" stroke="#333" stroke-width="0.14">4</text>
<text x="440.28" y="411.6" font-size="6.2" text-anchor="middle" font-weight="normal" font-style="normal" fill="#333" stroke="#333" stroke-width="0.14">5</text>
<text x="470.35" y="411.6" font-size="6.2" text-anchor="middle" font-weight="normal" font-style="normal" fill="#333" stroke="#333" stroke-width="0.14">6</text>
<text x="500.42" y="411.6" font-size="6.2" text-anchor="middle" font-weight="normal" font-style="normal" fill="#333" stroke="#333" stroke-width="0.14">7</text>
<text x="530.49" y="411.6" font-size="6.2" text-anchor="middle" font-weight="normal" font-style="normal" fill="#333" stroke="#333" stroke-width="0.14">8</text>
<text x="414.3" y="296.6" font-size="5.0" text-anchor="middle" font-weight="bold" font-style="normal" fill="#222" >Standard Curve</text>
<text transform="translate(287.6,352) rotate(-90)" font-size="5.8" text-anchor="middle" font-weight="bold" fill="#222">Cq</text>
<text x="430.4" y="311.2" font-size="5.8" text-anchor="start" font-weight="normal" font-style="normal" fill="#3a3a3a" stroke="#3a3a3a" stroke-width="0.14" textLength="7.2" lengthAdjust="spacingAndGlyphs">E=</text>
<text x="439.2" y="311.2" font-size="5.8" text-anchor="start" font-weight="normal" font-style="normal" fill="#3a3a3a" stroke="#3a3a3a" stroke-width="0.14" textLength="19.1" lengthAdjust="spacingAndGlyphs">100.1%</text>
<text x="459.3" y="311.2" font-size="5.8" text-anchor="start" font-weight="normal" font-style="normal" fill="#3a3a3a" stroke="#3a3a3a" stroke-width="0.14">R<tspan font-size="3.7" dy="-2">2</tspan><tspan dy="2">=0.999</tspan></text>
<text x="483.5" y="311.2" font-size="5.8" text-anchor="start" font-weight="normal" font-style="normal" fill="#3a3a3a" stroke="#3a3a3a" stroke-width="0.14" textLength="7.7" lengthAdjust="spacingAndGlyphs">y=</text>
<text x="494.4" y="311.2" font-size="5.8" text-anchor="start" font-weight="normal" font-style="normal" fill="#3a3a3a" stroke="#3a3a3a" stroke-width="0.14" textLength="3.3" lengthAdjust="spacingAndGlyphs">−</text>
<text x="499.3" y="311.2" font-size="5.8" text-anchor="start" font-weight="normal" font-style="normal" fill="#3a3a3a" stroke="#3a3a3a" stroke-width="0.14" textLength="17.0" lengthAdjust="spacingAndGlyphs">3.319x</text>
<text x="517.3" y="311.2" font-size="5.8" text-anchor="start" font-weight="normal" font-style="normal" fill="#3a3a3a" stroke="#3a3a3a" stroke-width="0.14" textLength="2.3" lengthAdjust="spacingAndGlyphs">+</text>
<text x="520" y="311.2" font-size="5.8" text-anchor="start" font-weight="normal" font-style="normal" fill="#3a3a3a" stroke="#3a3a3a" stroke-width="0.14" textLength="17.6" lengthAdjust="spacingAndGlyphs">38.262</text>
<line x1="315.49" y1="305.83" x2="530.49" y2="395.54" stroke="#5d9f73" stroke-width="0.8"/>
<circle cx="320" cy="307.12" r="2.35" fill="#fff" fill-opacity="0.6" stroke="#3f8b59" stroke-width="0.9"/>
<circle cx="320" cy="306.37" r="2.35" fill="#fff" fill-opacity="0.6" stroke="#3f8b59" stroke-width="0.9"/>
<circle cx="350.07" cy="322.43" r="2.35" fill="#fff" fill-opacity="0.6" stroke="#3f8b59" stroke-width="0.9"/>
<circle cx="380.14" cy="333.2" r="2.35" fill="#fff" fill-opacity="0.6" stroke="#3f8b59" stroke-width="0.9"/>
<circle cx="380.14" cy="333.96" r="2.35" fill="#fff" fill-opacity="0.6" stroke="#3f8b59" stroke-width="0.9"/>
<circle cx="410.21" cy="344.54" r="2.35" fill="#fff" fill-opacity="0.6" stroke="#3f8b59" stroke-width="0.9"/>
<circle cx="440.28" cy="357.4" r="2.35" fill="#fff" fill-opacity="0.6" stroke="#3f8b59" stroke-width="0.9"/>
<circle cx="440.28" cy="358.15" r="2.35" fill="#fff" fill-opacity="0.6" stroke="#3f8b59" stroke-width="0.9"/>
<circle cx="470.35" cy="371" r="2.35" fill="#fff" fill-opacity="0.6" stroke="#3f8b59" stroke-width="0.9"/>
<circle cx="500.42" cy="383.1" r="2.35" fill="#fff" fill-opacity="0.6" stroke="#3f8b59" stroke-width="0.9"/>
<circle cx="530.49" cy="396.33" r="2.35" fill="#fff" fill-opacity="0.6" stroke="#3f8b59" stroke-width="0.9"/>
<text x="314.6" y="394.8" font-size="7.8" text-anchor="start" font-weight="bold" font-style="italic" fill="#111" stroke="#111" stroke-width="0.22">vanA</text>
<line x1="335.6" y1="392.3" x2="338.8" y2="392.3" stroke="#b5b5b5" stroke-width="0.7"/>
<text x="339.6" y="394.8" font-size="7.8" text-anchor="start" font-weight="bold" font-style="italic" fill="#111" stroke="#111" stroke-width="0.22">vanB</text>
<text x="423.7" y="420.4" font-size="5.7" text-anchor="middle" font-weight="bold" font-style="normal" fill="#222" >Log Starting Quantity</text>
</svg></body></html>
